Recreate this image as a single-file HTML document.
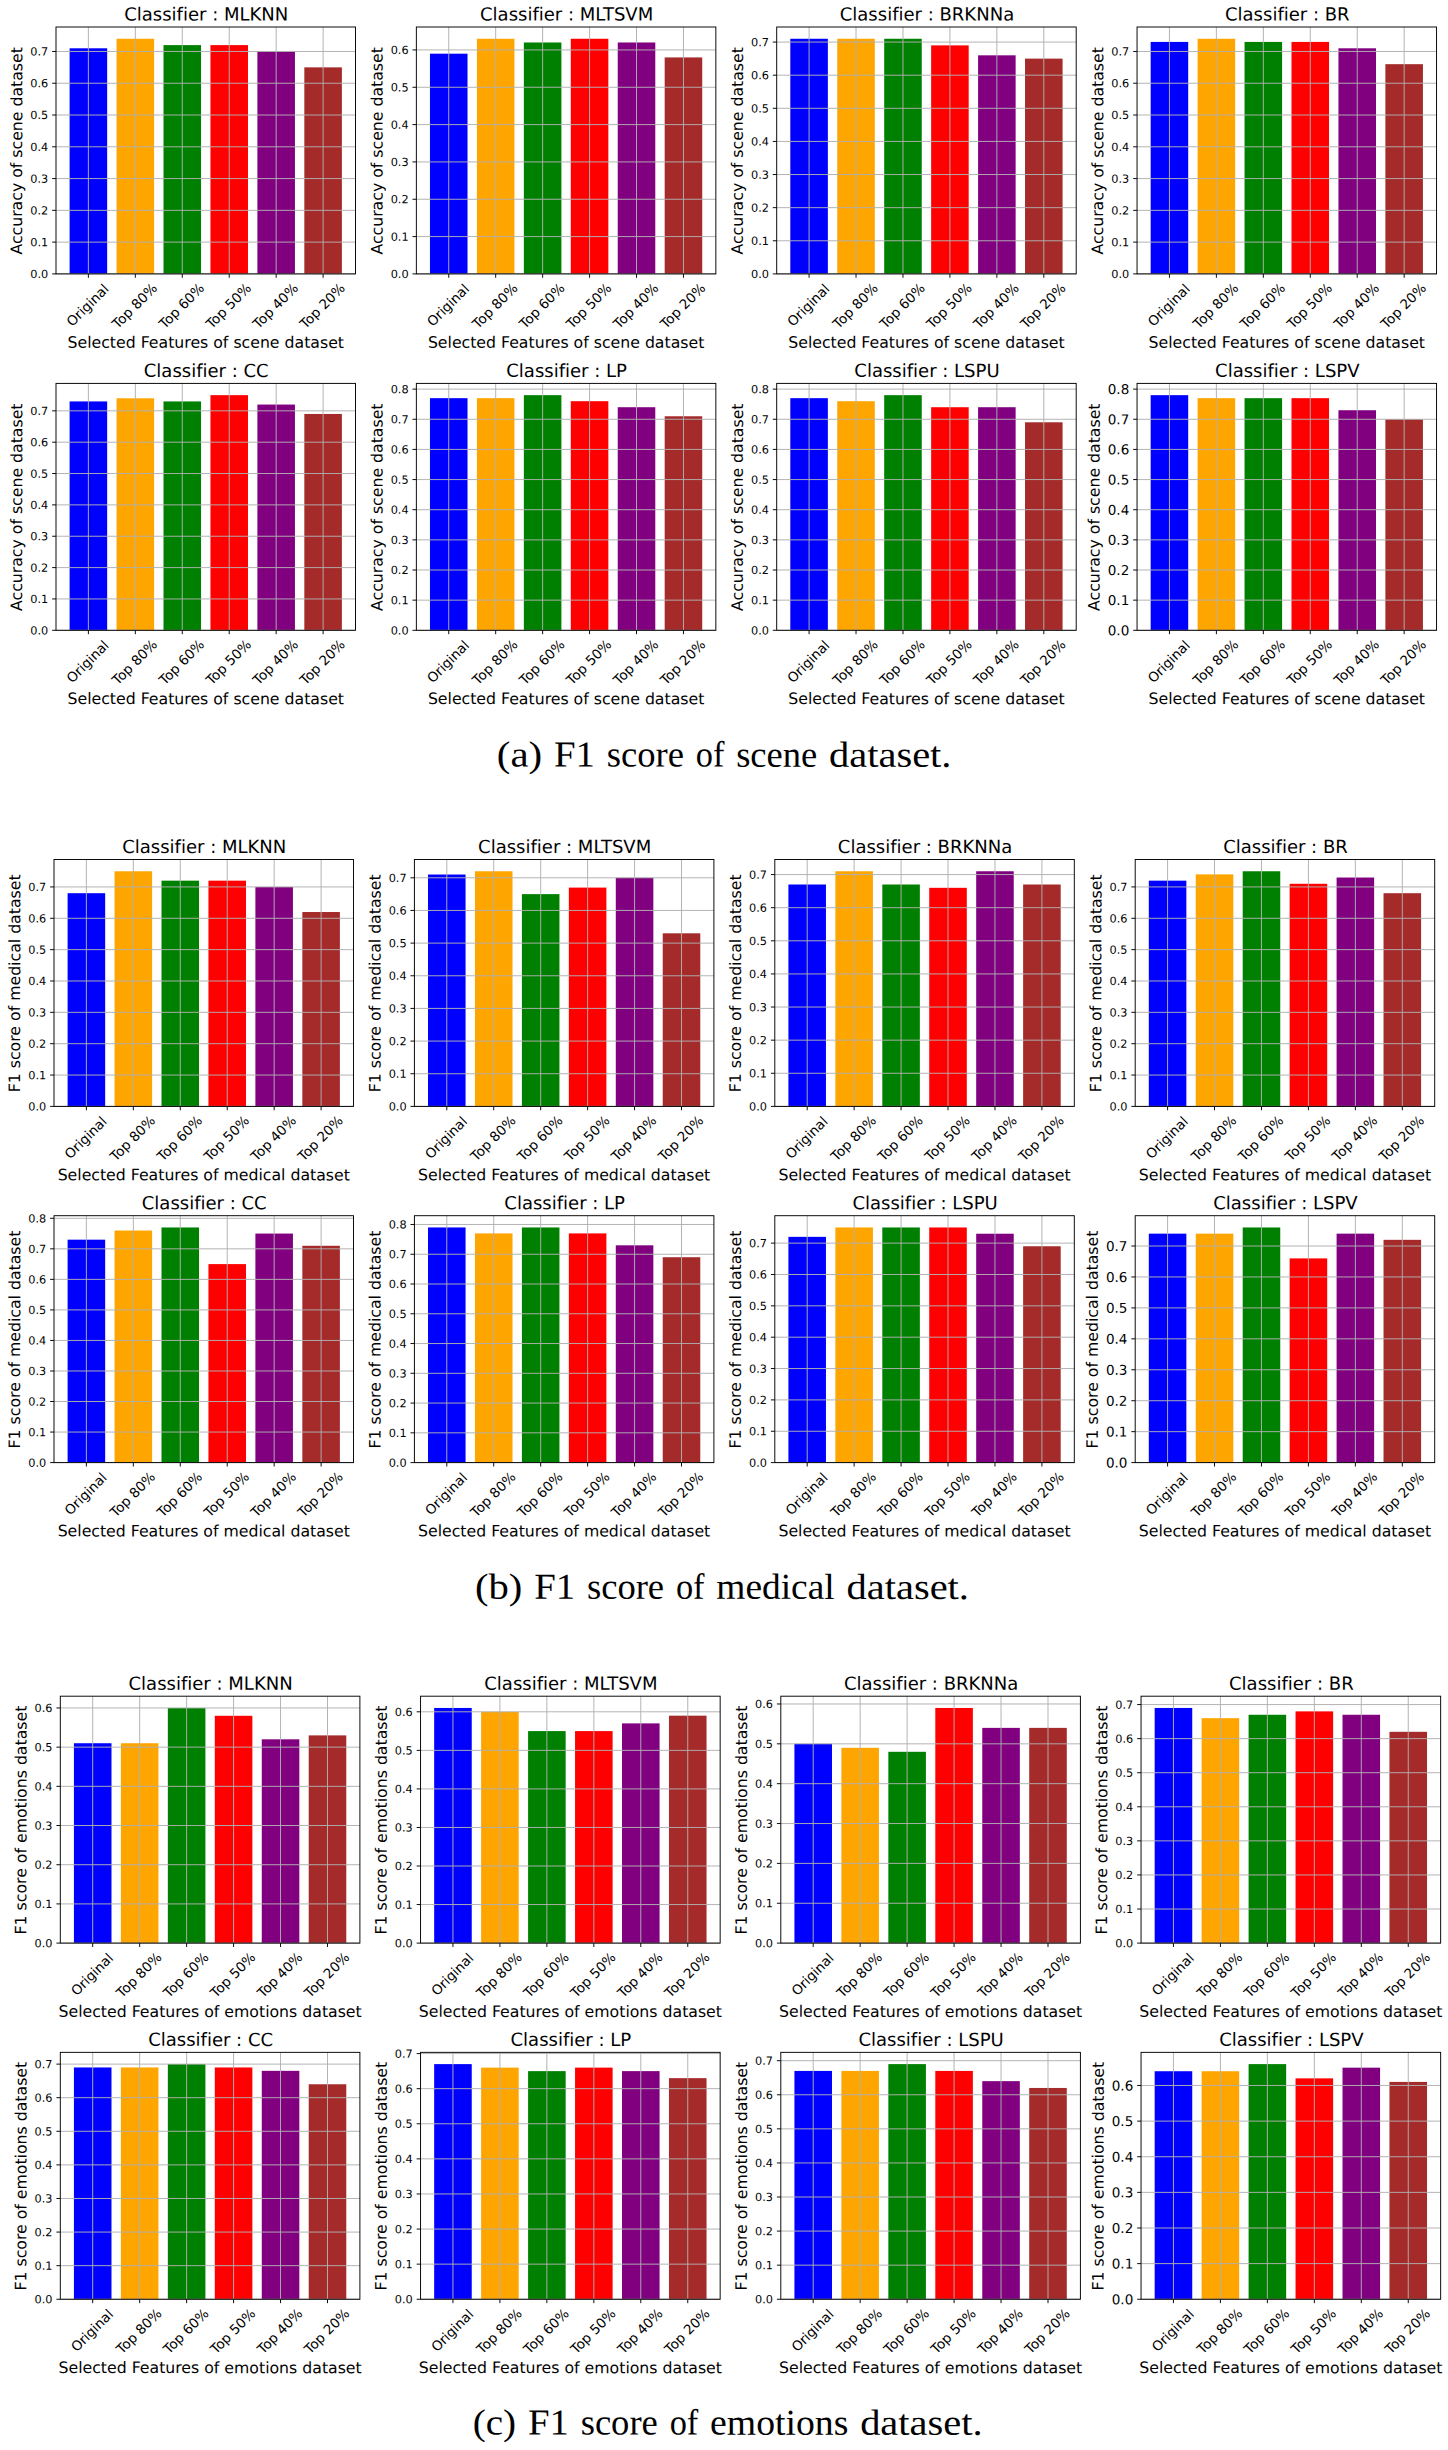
<!DOCTYPE html>
<html><head><meta charset="utf-8"><title>F1 score charts</title>
<style>
html,body{margin:0;padding:0;background:#fff}
svg{display:block}
text{font-variant-ligatures:none;font-feature-settings:"liga" 0,"clig" 0;font-family:"DejaVu Sans","Liberation Sans",sans-serif;fill:#000}
text.cap{font-family:"Liberation Serif","DejaVu Serif",serif;font-size:36.5px}
</style></head><body>
<svg width="1448" height="2450" viewBox="0 0 1448 2450">
<g>
<rect width="1448" height="2450" fill="#fff"/>
<g><rect x="69.61" y="48.29" width="37.55" height="225.61" fill="#0000ff"/>
<rect x="116.56" y="38.76" width="37.55" height="235.14" fill="#ffa500"/>
<rect x="163.5" y="45.11" width="37.55" height="228.79" fill="#008000"/>
<rect x="210.44" y="45.11" width="37.55" height="228.79" fill="#ff0000"/>
<rect x="257.39" y="51.47" width="37.55" height="222.43" fill="#800080"/>
<rect x="304.33" y="67.36" width="37.55" height="206.54" fill="#a52a2a"/>
<path d="M88.39 27V273.9M135.33 27V273.9M182.28 27V273.9M229.22 27V273.9M276.17 27V273.9M323.11 27V273.9M56 273.9H355.5M56 242.12H355.5M56 210.35H355.5M56 178.57H355.5M56 146.8H355.5M56 115.02H355.5M56 83.24H355.5M56 51.47H355.5" stroke="#b0b0b0" stroke-width="0.95" fill="none"/>
<path d="M88.39 273.9v3.89M135.33 273.9v3.89M182.28 273.9v3.89M229.22 273.9v3.89M276.17 273.9v3.89M323.11 273.9v3.89M56 273.9h-3.89M56 242.12h-3.89M56 210.35h-3.89M56 178.57h-3.89M56 146.8h-3.89M56 115.02h-3.89M56 83.24h-3.89M56 51.47h-3.89" stroke="#000" stroke-width="0.95" fill="none"/>
<rect x="56" y="27" width="299.5" height="246.9" fill="none" stroke="#000" stroke-width="0.95"/>
<text transform="translate(206.25 20.52) rotate(0.05)" font-size="18.03" text-anchor="middle">Classifier : MLKNN</text>
<text transform="translate(48.21 278.01) rotate(0.05)" font-size="11.27" text-anchor="end">0.0</text>
<text transform="translate(48.21 246.24) rotate(0.05)" font-size="11.27" text-anchor="end">0.1</text>
<text transform="translate(48.21 214.46) rotate(0.05)" font-size="11.27" text-anchor="end">0.2</text>
<text transform="translate(48.21 182.69) rotate(0.05)" font-size="11.27" text-anchor="end">0.3</text>
<text transform="translate(48.21 150.91) rotate(0.05)" font-size="11.27" text-anchor="end">0.4</text>
<text transform="translate(48.21 119.13) rotate(0.05)" font-size="11.27" text-anchor="end">0.5</text>
<text transform="translate(48.21 87.36) rotate(0.05)" font-size="11.27" text-anchor="end">0.6</text>
<text transform="translate(48.21 55.58) rotate(0.05)" font-size="11.27" text-anchor="end">0.7</text>
<text transform="translate(88.39 305.93) rotate(-45)" y="3.73" font-size="13.52" text-anchor="middle">Original</text>
<text transform="translate(135.33 306.53) rotate(-45)" y="3.73" font-size="13.52" text-anchor="middle">Top 80%</text>
<text transform="translate(182.28 306.53) rotate(-45)" y="3.73" font-size="13.52" text-anchor="middle">Top 60%</text>
<text transform="translate(229.22 306.53) rotate(-45)" y="3.73" font-size="13.52" text-anchor="middle">Top 50%</text>
<text transform="translate(276.17 306.53) rotate(-45)" y="3.73" font-size="13.52" text-anchor="middle">Top 40%</text>
<text transform="translate(323.11 306.53) rotate(-45)" y="3.73" font-size="13.52" text-anchor="middle">Top 20%</text>
<text transform="translate(205.75 347.78) rotate(0.05)" font-size="15.73" text-anchor="middle">Selected Features of scene dataset</text>
<text transform="translate(22.12 150.85) rotate(-89.95)" font-size="15.73" text-anchor="middle">Accuracy of scene dataset</text></g>
<g><rect x="429.96" y="53.69" width="37.55" height="220.21" fill="#0000ff"/>
<rect x="476.91" y="38.76" width="37.55" height="235.14" fill="#ffa500"/>
<rect x="523.85" y="42.49" width="37.55" height="231.41" fill="#008000"/>
<rect x="570.79" y="38.76" width="37.55" height="235.14" fill="#ff0000"/>
<rect x="617.74" y="42.49" width="37.55" height="231.41" fill="#800080"/>
<rect x="664.68" y="57.42" width="37.55" height="216.48" fill="#a52a2a"/>
<path d="M448.74 27V273.9M495.68 27V273.9M542.63 27V273.9M589.57 27V273.9M636.52 27V273.9M683.46 27V273.9M416.35 273.9H715.85M416.35 236.58H715.85M416.35 199.25H715.85M416.35 161.93H715.85M416.35 124.6H715.85M416.35 87.28H715.85M416.35 49.95H715.85" stroke="#b0b0b0" stroke-width="0.95" fill="none"/>
<path d="M448.74 273.9v3.89M495.68 273.9v3.89M542.63 273.9v3.89M589.57 273.9v3.89M636.52 273.9v3.89M683.46 273.9v3.89M416.35 273.9h-3.89M416.35 236.58h-3.89M416.35 199.25h-3.89M416.35 161.93h-3.89M416.35 124.6h-3.89M416.35 87.28h-3.89M416.35 49.95h-3.89" stroke="#000" stroke-width="0.95" fill="none"/>
<rect x="416.35" y="27" width="299.5" height="246.9" fill="none" stroke="#000" stroke-width="0.95"/>
<text transform="translate(566.6 20.52) rotate(0.05)" font-size="18.03" text-anchor="middle">Classifier : MLTSVM</text>
<text transform="translate(408.56 278.01) rotate(0.05)" font-size="11.27" text-anchor="end">0.0</text>
<text transform="translate(408.56 240.69) rotate(0.05)" font-size="11.27" text-anchor="end">0.1</text>
<text transform="translate(408.56 203.36) rotate(0.05)" font-size="11.27" text-anchor="end">0.2</text>
<text transform="translate(408.56 166.04) rotate(0.05)" font-size="11.27" text-anchor="end">0.3</text>
<text transform="translate(408.56 128.72) rotate(0.05)" font-size="11.27" text-anchor="end">0.4</text>
<text transform="translate(408.56 91.39) rotate(0.05)" font-size="11.27" text-anchor="end">0.5</text>
<text transform="translate(408.56 54.07) rotate(0.05)" font-size="11.27" text-anchor="end">0.6</text>
<text transform="translate(448.74 305.93) rotate(-45)" y="3.73" font-size="13.52" text-anchor="middle">Original</text>
<text transform="translate(495.68 306.53) rotate(-45)" y="3.73" font-size="13.52" text-anchor="middle">Top 80%</text>
<text transform="translate(542.63 306.53) rotate(-45)" y="3.73" font-size="13.52" text-anchor="middle">Top 60%</text>
<text transform="translate(589.57 306.53) rotate(-45)" y="3.73" font-size="13.52" text-anchor="middle">Top 50%</text>
<text transform="translate(636.52 306.53) rotate(-45)" y="3.73" font-size="13.52" text-anchor="middle">Top 40%</text>
<text transform="translate(683.46 306.53) rotate(-45)" y="3.73" font-size="13.52" text-anchor="middle">Top 20%</text>
<text transform="translate(566.1 347.78) rotate(0.05)" font-size="15.73" text-anchor="middle">Selected Features of scene dataset</text>
<text transform="translate(382.47 150.85) rotate(-89.95)" font-size="15.73" text-anchor="middle">Accuracy of scene dataset</text></g>
<g><rect x="790.31" y="38.76" width="37.55" height="235.14" fill="#0000ff"/>
<rect x="837.26" y="38.76" width="37.55" height="235.14" fill="#ffa500"/>
<rect x="884.2" y="38.76" width="37.55" height="235.14" fill="#008000"/>
<rect x="931.14" y="45.38" width="37.55" height="228.52" fill="#ff0000"/>
<rect x="978.09" y="55.32" width="37.55" height="218.58" fill="#800080"/>
<rect x="1025.03" y="58.63" width="37.55" height="215.27" fill="#a52a2a"/>
<path d="M809.09 27V273.9M856.03 27V273.9M902.98 27V273.9M949.92 27V273.9M996.87 27V273.9M1043.81 27V273.9M776.7 273.9H1076.2M776.7 240.78H1076.2M776.7 207.66H1076.2M776.7 174.54H1076.2M776.7 141.43H1076.2M776.7 108.31H1076.2M776.7 75.19H1076.2M776.7 42.07H1076.2" stroke="#b0b0b0" stroke-width="0.95" fill="none"/>
<path d="M809.09 273.9v3.89M856.03 273.9v3.89M902.98 273.9v3.89M949.92 273.9v3.89M996.87 273.9v3.89M1043.81 273.9v3.89M776.7 273.9h-3.89M776.7 240.78h-3.89M776.7 207.66h-3.89M776.7 174.54h-3.89M776.7 141.43h-3.89M776.7 108.31h-3.89M776.7 75.19h-3.89M776.7 42.07h-3.89" stroke="#000" stroke-width="0.95" fill="none"/>
<rect x="776.7" y="27" width="299.5" height="246.9" fill="none" stroke="#000" stroke-width="0.95"/>
<text transform="translate(926.95 20.52) rotate(0.05)" font-size="18.03" text-anchor="middle">Classifier : BRKNNa</text>
<text transform="translate(768.91 278.01) rotate(0.05)" font-size="11.27" text-anchor="end">0.0</text>
<text transform="translate(768.91 244.89) rotate(0.05)" font-size="11.27" text-anchor="end">0.1</text>
<text transform="translate(768.91 211.78) rotate(0.05)" font-size="11.27" text-anchor="end">0.2</text>
<text transform="translate(768.91 178.66) rotate(0.05)" font-size="11.27" text-anchor="end">0.3</text>
<text transform="translate(768.91 145.54) rotate(0.05)" font-size="11.27" text-anchor="end">0.4</text>
<text transform="translate(768.91 112.42) rotate(0.05)" font-size="11.27" text-anchor="end">0.5</text>
<text transform="translate(768.91 79.3) rotate(0.05)" font-size="11.27" text-anchor="end">0.6</text>
<text transform="translate(768.91 46.18) rotate(0.05)" font-size="11.27" text-anchor="end">0.7</text>
<text transform="translate(809.09 305.93) rotate(-45)" y="3.73" font-size="13.52" text-anchor="middle">Original</text>
<text transform="translate(856.03 306.53) rotate(-45)" y="3.73" font-size="13.52" text-anchor="middle">Top 80%</text>
<text transform="translate(902.98 306.53) rotate(-45)" y="3.73" font-size="13.52" text-anchor="middle">Top 60%</text>
<text transform="translate(949.92 306.53) rotate(-45)" y="3.73" font-size="13.52" text-anchor="middle">Top 50%</text>
<text transform="translate(996.87 306.53) rotate(-45)" y="3.73" font-size="13.52" text-anchor="middle">Top 40%</text>
<text transform="translate(1043.81 306.53) rotate(-45)" y="3.73" font-size="13.52" text-anchor="middle">Top 20%</text>
<text transform="translate(926.45 347.78) rotate(0.05)" font-size="15.73" text-anchor="middle">Selected Features of scene dataset</text>
<text transform="translate(742.82 150.85) rotate(-89.95)" font-size="15.73" text-anchor="middle">Accuracy of scene dataset</text></g>
<g><rect x="1150.66" y="41.93" width="37.55" height="231.97" fill="#0000ff"/>
<rect x="1197.61" y="38.76" width="37.55" height="235.14" fill="#ffa500"/>
<rect x="1244.55" y="41.93" width="37.55" height="231.97" fill="#008000"/>
<rect x="1291.49" y="41.93" width="37.55" height="231.97" fill="#ff0000"/>
<rect x="1338.44" y="48.29" width="37.55" height="225.61" fill="#800080"/>
<rect x="1385.38" y="64.18" width="37.55" height="209.72" fill="#a52a2a"/>
<path d="M1169.44 27V273.9M1216.38 27V273.9M1263.33 27V273.9M1310.27 27V273.9M1357.22 27V273.9M1404.16 27V273.9M1137.05 273.9H1436.55M1137.05 242.12H1436.55M1137.05 210.35H1436.55M1137.05 178.57H1436.55M1137.05 146.8H1436.55M1137.05 115.02H1436.55M1137.05 83.24H1436.55M1137.05 51.47H1436.55" stroke="#b0b0b0" stroke-width="0.95" fill="none"/>
<path d="M1169.44 273.9v3.89M1216.38 273.9v3.89M1263.33 273.9v3.89M1310.27 273.9v3.89M1357.22 273.9v3.89M1404.16 273.9v3.89M1137.05 273.9h-3.89M1137.05 242.12h-3.89M1137.05 210.35h-3.89M1137.05 178.57h-3.89M1137.05 146.8h-3.89M1137.05 115.02h-3.89M1137.05 83.24h-3.89M1137.05 51.47h-3.89" stroke="#000" stroke-width="0.95" fill="none"/>
<rect x="1137.05" y="27" width="299.5" height="246.9" fill="none" stroke="#000" stroke-width="0.95"/>
<text transform="translate(1287.3 20.52) rotate(0.05)" font-size="18.03" text-anchor="middle">Classifier : BR</text>
<text transform="translate(1129.26 278.01) rotate(0.05)" font-size="11.27" text-anchor="end">0.0</text>
<text transform="translate(1129.26 246.24) rotate(0.05)" font-size="11.27" text-anchor="end">0.1</text>
<text transform="translate(1129.26 214.46) rotate(0.05)" font-size="11.27" text-anchor="end">0.2</text>
<text transform="translate(1129.26 182.69) rotate(0.05)" font-size="11.27" text-anchor="end">0.3</text>
<text transform="translate(1129.26 150.91) rotate(0.05)" font-size="11.27" text-anchor="end">0.4</text>
<text transform="translate(1129.26 119.13) rotate(0.05)" font-size="11.27" text-anchor="end">0.5</text>
<text transform="translate(1129.26 87.36) rotate(0.05)" font-size="11.27" text-anchor="end">0.6</text>
<text transform="translate(1129.26 55.58) rotate(0.05)" font-size="11.27" text-anchor="end">0.7</text>
<text transform="translate(1169.44 305.93) rotate(-45)" y="3.73" font-size="13.52" text-anchor="middle">Original</text>
<text transform="translate(1216.38 306.53) rotate(-45)" y="3.73" font-size="13.52" text-anchor="middle">Top 80%</text>
<text transform="translate(1263.33 306.53) rotate(-45)" y="3.73" font-size="13.52" text-anchor="middle">Top 60%</text>
<text transform="translate(1310.27 306.53) rotate(-45)" y="3.73" font-size="13.52" text-anchor="middle">Top 50%</text>
<text transform="translate(1357.22 306.53) rotate(-45)" y="3.73" font-size="13.52" text-anchor="middle">Top 40%</text>
<text transform="translate(1404.16 306.53) rotate(-45)" y="3.73" font-size="13.52" text-anchor="middle">Top 20%</text>
<text transform="translate(1286.8 347.78) rotate(0.05)" font-size="15.73" text-anchor="middle">Selected Features of scene dataset</text>
<text transform="translate(1103.17 150.85) rotate(-89.95)" font-size="15.73" text-anchor="middle">Accuracy of scene dataset</text></g>
<g><rect x="69.61" y="401.43" width="37.55" height="228.87" fill="#0000ff"/>
<rect x="116.56" y="398.29" width="37.55" height="232.01" fill="#ffa500"/>
<rect x="163.5" y="401.43" width="37.55" height="228.87" fill="#008000"/>
<rect x="210.44" y="395.16" width="37.55" height="235.14" fill="#ff0000"/>
<rect x="257.39" y="404.56" width="37.55" height="225.74" fill="#800080"/>
<rect x="304.33" y="413.97" width="37.55" height="216.33" fill="#a52a2a"/>
<path d="M88.39 383.4V630.3M135.33 383.4V630.3M182.28 383.4V630.3M229.22 383.4V630.3M276.17 383.4V630.3M323.11 383.4V630.3M56 630.3H355.5M56 598.95H355.5M56 567.6H355.5M56 536.24H355.5M56 504.89H355.5M56 473.54H355.5M56 442.19H355.5M56 410.83H355.5" stroke="#b0b0b0" stroke-width="0.95" fill="none"/>
<path d="M88.39 630.3v3.89M135.33 630.3v3.89M182.28 630.3v3.89M229.22 630.3v3.89M276.17 630.3v3.89M323.11 630.3v3.89M56 630.3h-3.89M56 598.95h-3.89M56 567.6h-3.89M56 536.24h-3.89M56 504.89h-3.89M56 473.54h-3.89M56 442.19h-3.89M56 410.83h-3.89" stroke="#000" stroke-width="0.95" fill="none"/>
<rect x="56" y="383.4" width="299.5" height="246.9" fill="none" stroke="#000" stroke-width="0.95"/>
<text transform="translate(206.25 376.92) rotate(0.05)" font-size="18.03" text-anchor="middle">Classifier : CC</text>
<text transform="translate(48.21 634.41) rotate(0.05)" font-size="11.27" text-anchor="end">0.0</text>
<text transform="translate(48.21 603.06) rotate(0.05)" font-size="11.27" text-anchor="end">0.1</text>
<text transform="translate(48.21 571.71) rotate(0.05)" font-size="11.27" text-anchor="end">0.2</text>
<text transform="translate(48.21 540.36) rotate(0.05)" font-size="11.27" text-anchor="end">0.3</text>
<text transform="translate(48.21 509) rotate(0.05)" font-size="11.27" text-anchor="end">0.4</text>
<text transform="translate(48.21 477.65) rotate(0.05)" font-size="11.27" text-anchor="end">0.5</text>
<text transform="translate(48.21 446.3) rotate(0.05)" font-size="11.27" text-anchor="end">0.6</text>
<text transform="translate(48.21 414.95) rotate(0.05)" font-size="11.27" text-anchor="end">0.7</text>
<text transform="translate(88.39 662.33) rotate(-45)" y="3.73" font-size="13.52" text-anchor="middle">Original</text>
<text transform="translate(135.33 662.93) rotate(-45)" y="3.73" font-size="13.52" text-anchor="middle">Top 80%</text>
<text transform="translate(182.28 662.93) rotate(-45)" y="3.73" font-size="13.52" text-anchor="middle">Top 60%</text>
<text transform="translate(229.22 662.93) rotate(-45)" y="3.73" font-size="13.52" text-anchor="middle">Top 50%</text>
<text transform="translate(276.17 662.93) rotate(-45)" y="3.73" font-size="13.52" text-anchor="middle">Top 40%</text>
<text transform="translate(323.11 662.93) rotate(-45)" y="3.73" font-size="13.52" text-anchor="middle">Top 20%</text>
<text transform="translate(205.75 704.18) rotate(0.05)" font-size="15.73" text-anchor="middle">Selected Features of scene dataset</text>
<text transform="translate(22.12 507.25) rotate(-89.95)" font-size="15.73" text-anchor="middle">Accuracy of scene dataset</text></g>
<g><rect x="429.96" y="398.17" width="37.55" height="232.13" fill="#0000ff"/>
<rect x="476.91" y="398.17" width="37.55" height="232.13" fill="#ffa500"/>
<rect x="523.85" y="395.16" width="37.55" height="235.14" fill="#008000"/>
<rect x="570.79" y="401.19" width="37.55" height="229.11" fill="#ff0000"/>
<rect x="617.74" y="407.22" width="37.55" height="223.08" fill="#800080"/>
<rect x="664.68" y="416.26" width="37.55" height="214.04" fill="#a52a2a"/>
<path d="M448.74 383.4V630.3M495.68 383.4V630.3M542.63 383.4V630.3M589.57 383.4V630.3M636.52 383.4V630.3M683.46 383.4V630.3M416.35 630.3H715.85M416.35 600.15H715.85M416.35 570.01H715.85M416.35 539.86H715.85M416.35 509.71H715.85M416.35 479.57H715.85M416.35 449.42H715.85M416.35 419.27H715.85M416.35 389.13H715.85" stroke="#b0b0b0" stroke-width="0.95" fill="none"/>
<path d="M448.74 630.3v3.89M495.68 630.3v3.89M542.63 630.3v3.89M589.57 630.3v3.89M636.52 630.3v3.89M683.46 630.3v3.89M416.35 630.3h-3.89M416.35 600.15h-3.89M416.35 570.01h-3.89M416.35 539.86h-3.89M416.35 509.71h-3.89M416.35 479.57h-3.89M416.35 449.42h-3.89M416.35 419.27h-3.89M416.35 389.13h-3.89" stroke="#000" stroke-width="0.95" fill="none"/>
<rect x="416.35" y="383.4" width="299.5" height="246.9" fill="none" stroke="#000" stroke-width="0.95"/>
<text transform="translate(566.6 376.92) rotate(0.05)" font-size="18.03" text-anchor="middle">Classifier : LP</text>
<text transform="translate(408.56 634.41) rotate(0.05)" font-size="11.27" text-anchor="end">0.0</text>
<text transform="translate(408.56 604.27) rotate(0.05)" font-size="11.27" text-anchor="end">0.1</text>
<text transform="translate(408.56 574.12) rotate(0.05)" font-size="11.27" text-anchor="end">0.2</text>
<text transform="translate(408.56 543.97) rotate(0.05)" font-size="11.27" text-anchor="end">0.3</text>
<text transform="translate(408.56 513.83) rotate(0.05)" font-size="11.27" text-anchor="end">0.4</text>
<text transform="translate(408.56 483.68) rotate(0.05)" font-size="11.27" text-anchor="end">0.5</text>
<text transform="translate(408.56 453.53) rotate(0.05)" font-size="11.27" text-anchor="end">0.6</text>
<text transform="translate(408.56 423.39) rotate(0.05)" font-size="11.27" text-anchor="end">0.7</text>
<text transform="translate(408.56 393.24) rotate(0.05)" font-size="11.27" text-anchor="end">0.8</text>
<text transform="translate(448.74 662.33) rotate(-45)" y="3.73" font-size="13.52" text-anchor="middle">Original</text>
<text transform="translate(495.68 662.93) rotate(-45)" y="3.73" font-size="13.52" text-anchor="middle">Top 80%</text>
<text transform="translate(542.63 662.93) rotate(-45)" y="3.73" font-size="13.52" text-anchor="middle">Top 60%</text>
<text transform="translate(589.57 662.93) rotate(-45)" y="3.73" font-size="13.52" text-anchor="middle">Top 50%</text>
<text transform="translate(636.52 662.93) rotate(-45)" y="3.73" font-size="13.52" text-anchor="middle">Top 40%</text>
<text transform="translate(683.46 662.93) rotate(-45)" y="3.73" font-size="13.52" text-anchor="middle">Top 20%</text>
<text transform="translate(566.1 704.18) rotate(0.05)" font-size="15.73" text-anchor="middle">Selected Features of scene dataset</text>
<text transform="translate(382.47 507.25) rotate(-89.95)" font-size="15.73" text-anchor="middle">Accuracy of scene dataset</text></g>
<g><rect x="790.31" y="398.17" width="37.55" height="232.13" fill="#0000ff"/>
<rect x="837.26" y="401.19" width="37.55" height="229.11" fill="#ffa500"/>
<rect x="884.2" y="395.16" width="37.55" height="235.14" fill="#008000"/>
<rect x="931.14" y="407.22" width="37.55" height="223.08" fill="#ff0000"/>
<rect x="978.09" y="407.22" width="37.55" height="223.08" fill="#800080"/>
<rect x="1025.03" y="422.29" width="37.55" height="208.01" fill="#a52a2a"/>
<path d="M809.09 383.4V630.3M856.03 383.4V630.3M902.98 383.4V630.3M949.92 383.4V630.3M996.87 383.4V630.3M1043.81 383.4V630.3M776.7 630.3H1076.2M776.7 600.15H1076.2M776.7 570.01H1076.2M776.7 539.86H1076.2M776.7 509.71H1076.2M776.7 479.57H1076.2M776.7 449.42H1076.2M776.7 419.27H1076.2M776.7 389.13H1076.2" stroke="#b0b0b0" stroke-width="0.95" fill="none"/>
<path d="M809.09 630.3v3.89M856.03 630.3v3.89M902.98 630.3v3.89M949.92 630.3v3.89M996.87 630.3v3.89M1043.81 630.3v3.89M776.7 630.3h-3.89M776.7 600.15h-3.89M776.7 570.01h-3.89M776.7 539.86h-3.89M776.7 509.71h-3.89M776.7 479.57h-3.89M776.7 449.42h-3.89M776.7 419.27h-3.89M776.7 389.13h-3.89" stroke="#000" stroke-width="0.95" fill="none"/>
<rect x="776.7" y="383.4" width="299.5" height="246.9" fill="none" stroke="#000" stroke-width="0.95"/>
<text transform="translate(926.95 376.92) rotate(0.05)" font-size="18.03" text-anchor="middle">Classifier : LSPU</text>
<text transform="translate(768.91 634.41) rotate(0.05)" font-size="11.27" text-anchor="end">0.0</text>
<text transform="translate(768.91 604.27) rotate(0.05)" font-size="11.27" text-anchor="end">0.1</text>
<text transform="translate(768.91 574.12) rotate(0.05)" font-size="11.27" text-anchor="end">0.2</text>
<text transform="translate(768.91 543.97) rotate(0.05)" font-size="11.27" text-anchor="end">0.3</text>
<text transform="translate(768.91 513.83) rotate(0.05)" font-size="11.27" text-anchor="end">0.4</text>
<text transform="translate(768.91 483.68) rotate(0.05)" font-size="11.27" text-anchor="end">0.5</text>
<text transform="translate(768.91 453.53) rotate(0.05)" font-size="11.27" text-anchor="end">0.6</text>
<text transform="translate(768.91 423.39) rotate(0.05)" font-size="11.27" text-anchor="end">0.7</text>
<text transform="translate(768.91 393.24) rotate(0.05)" font-size="11.27" text-anchor="end">0.8</text>
<text transform="translate(809.09 662.33) rotate(-45)" y="3.73" font-size="13.52" text-anchor="middle">Original</text>
<text transform="translate(856.03 662.93) rotate(-45)" y="3.73" font-size="13.52" text-anchor="middle">Top 80%</text>
<text transform="translate(902.98 662.93) rotate(-45)" y="3.73" font-size="13.52" text-anchor="middle">Top 60%</text>
<text transform="translate(949.92 662.93) rotate(-45)" y="3.73" font-size="13.52" text-anchor="middle">Top 50%</text>
<text transform="translate(996.87 662.93) rotate(-45)" y="3.73" font-size="13.52" text-anchor="middle">Top 40%</text>
<text transform="translate(1043.81 662.93) rotate(-45)" y="3.73" font-size="13.52" text-anchor="middle">Top 20%</text>
<text transform="translate(926.45 704.18) rotate(0.05)" font-size="15.73" text-anchor="middle">Selected Features of scene dataset</text>
<text transform="translate(742.82 507.25) rotate(-89.95)" font-size="15.73" text-anchor="middle">Accuracy of scene dataset</text></g>
<g><rect x="1150.66" y="395.16" width="37.55" height="235.14" fill="#0000ff"/>
<rect x="1197.61" y="398.17" width="37.55" height="232.13" fill="#ffa500"/>
<rect x="1244.55" y="398.17" width="37.55" height="232.13" fill="#008000"/>
<rect x="1291.49" y="398.17" width="37.55" height="232.13" fill="#ff0000"/>
<rect x="1338.44" y="410.23" width="37.55" height="220.07" fill="#800080"/>
<rect x="1385.38" y="419.27" width="37.55" height="211.03" fill="#a52a2a"/>
<path d="M1169.44 383.4V630.3M1216.38 383.4V630.3M1263.33 383.4V630.3M1310.27 383.4V630.3M1357.22 383.4V630.3M1404.16 383.4V630.3M1137.05 630.3H1436.55M1137.05 600.15H1436.55M1137.05 570.01H1436.55M1137.05 539.86H1436.55M1137.05 509.71H1436.55M1137.05 479.57H1436.55M1137.05 449.42H1436.55M1137.05 419.27H1436.55M1137.05 389.13H1436.55" stroke="#b0b0b0" stroke-width="0.95" fill="none"/>
<path d="M1169.44 630.3v3.89M1216.38 630.3v3.89M1263.33 630.3v3.89M1310.27 630.3v3.89M1357.22 630.3v3.89M1404.16 630.3v3.89M1137.05 630.3h-3.89M1137.05 600.15h-3.89M1137.05 570.01h-3.89M1137.05 539.86h-3.89M1137.05 509.71h-3.89M1137.05 479.57h-3.89M1137.05 449.42h-3.89M1137.05 419.27h-3.89M1137.05 389.13h-3.89" stroke="#000" stroke-width="0.95" fill="none"/>
<rect x="1137.05" y="383.4" width="299.5" height="246.9" fill="none" stroke="#000" stroke-width="0.95"/>
<text transform="translate(1287.3 376.92) rotate(0.05)" font-size="18.03" text-anchor="middle">Classifier : LSPV</text>
<text transform="translate(1129.26 635.24) rotate(0.05)" font-size="13.52" text-anchor="end">0.0</text>
<text transform="translate(1129.26 605.09) rotate(0.05)" font-size="13.52" text-anchor="end">0.1</text>
<text transform="translate(1129.26 574.94) rotate(0.05)" font-size="13.52" text-anchor="end">0.2</text>
<text transform="translate(1129.26 544.8) rotate(0.05)" font-size="13.52" text-anchor="end">0.3</text>
<text transform="translate(1129.26 514.65) rotate(0.05)" font-size="13.52" text-anchor="end">0.4</text>
<text transform="translate(1129.26 484.5) rotate(0.05)" font-size="13.52" text-anchor="end">0.5</text>
<text transform="translate(1129.26 454.36) rotate(0.05)" font-size="13.52" text-anchor="end">0.6</text>
<text transform="translate(1129.26 424.21) rotate(0.05)" font-size="13.52" text-anchor="end">0.7</text>
<text transform="translate(1129.26 394.06) rotate(0.05)" font-size="13.52" text-anchor="end">0.8</text>
<text transform="translate(1169.44 662.33) rotate(-45)" y="3.73" font-size="13.52" text-anchor="middle">Original</text>
<text transform="translate(1216.38 662.93) rotate(-45)" y="3.73" font-size="13.52" text-anchor="middle">Top 80%</text>
<text transform="translate(1263.33 662.93) rotate(-45)" y="3.73" font-size="13.52" text-anchor="middle">Top 60%</text>
<text transform="translate(1310.27 662.93) rotate(-45)" y="3.73" font-size="13.52" text-anchor="middle">Top 50%</text>
<text transform="translate(1357.22 662.93) rotate(-45)" y="3.73" font-size="13.52" text-anchor="middle">Top 40%</text>
<text transform="translate(1404.16 662.93) rotate(-45)" y="3.73" font-size="13.52" text-anchor="middle">Top 20%</text>
<text transform="translate(1286.8 704.18) rotate(0.05)" font-size="15.73" text-anchor="middle">Selected Features of scene dataset</text>
<text transform="translate(1099.58 507.25) rotate(-89.95)" font-size="15.73" text-anchor="middle">Accuracy of scene dataset</text></g>
<text class="cap" transform="translate(496.8 766.5) rotate(0.03)"><tspan x="0" textLength="45.37" lengthAdjust="spacingAndGlyphs">(a)</tspan> <tspan x="57.19" textLength="40.93" lengthAdjust="spacingAndGlyphs">F1</tspan> <tspan x="109.94" textLength="77.18" lengthAdjust="spacingAndGlyphs">score</tspan> <tspan x="198.94" textLength="28.61" lengthAdjust="spacingAndGlyphs">of</tspan> <tspan x="239.38" textLength="81.01" lengthAdjust="spacingAndGlyphs">scene</tspan> <tspan x="332.21" textLength="122.48" lengthAdjust="spacingAndGlyphs">dataset.</tspan></text>
<g><rect x="67.61" y="893.2" width="37.55" height="213.2" fill="#0000ff"/>
<rect x="114.56" y="871.26" width="37.55" height="235.14" fill="#ffa500"/>
<rect x="161.5" y="880.66" width="37.55" height="225.74" fill="#008000"/>
<rect x="208.44" y="880.66" width="37.55" height="225.74" fill="#ff0000"/>
<rect x="255.39" y="886.93" width="37.55" height="219.47" fill="#800080"/>
<rect x="302.33" y="912.02" width="37.55" height="194.38" fill="#a52a2a"/>
<path d="M86.39 859.5V1106.4M133.33 859.5V1106.4M180.28 859.5V1106.4M227.22 859.5V1106.4M274.17 859.5V1106.4M321.11 859.5V1106.4M54 1106.4H353.5M54 1075.05H353.5M54 1043.7H353.5M54 1012.34H353.5M54 980.99H353.5M54 949.64H353.5M54 918.29H353.5M54 886.93H353.5" stroke="#b0b0b0" stroke-width="0.95" fill="none"/>
<path d="M86.39 1106.4v3.89M133.33 1106.4v3.89M180.28 1106.4v3.89M227.22 1106.4v3.89M274.17 1106.4v3.89M321.11 1106.4v3.89M54 1106.4h-3.89M54 1075.05h-3.89M54 1043.7h-3.89M54 1012.34h-3.89M54 980.99h-3.89M54 949.64h-3.89M54 918.29h-3.89M54 886.93h-3.89" stroke="#000" stroke-width="0.95" fill="none"/>
<rect x="54" y="859.5" width="299.5" height="246.9" fill="none" stroke="#000" stroke-width="0.95"/>
<text transform="translate(204.25 853.03) rotate(0.05)" font-size="18.03" text-anchor="middle">Classifier : MLKNN</text>
<text transform="translate(46.21 1110.51) rotate(0.05)" font-size="11.27" text-anchor="end">0.0</text>
<text transform="translate(46.21 1079.16) rotate(0.05)" font-size="11.27" text-anchor="end">0.1</text>
<text transform="translate(46.21 1047.81) rotate(0.05)" font-size="11.27" text-anchor="end">0.2</text>
<text transform="translate(46.21 1016.46) rotate(0.05)" font-size="11.27" text-anchor="end">0.3</text>
<text transform="translate(46.21 985.1) rotate(0.05)" font-size="11.27" text-anchor="end">0.4</text>
<text transform="translate(46.21 953.75) rotate(0.05)" font-size="11.27" text-anchor="end">0.5</text>
<text transform="translate(46.21 922.4) rotate(0.05)" font-size="11.27" text-anchor="end">0.6</text>
<text transform="translate(46.21 891.05) rotate(0.05)" font-size="11.27" text-anchor="end">0.7</text>
<text transform="translate(86.39 1138.43) rotate(-45)" y="3.73" font-size="13.52" text-anchor="middle">Original</text>
<text transform="translate(133.33 1139.03) rotate(-45)" y="3.73" font-size="13.52" text-anchor="middle">Top 80%</text>
<text transform="translate(180.28 1139.03) rotate(-45)" y="3.73" font-size="13.52" text-anchor="middle">Top 60%</text>
<text transform="translate(227.22 1139.03) rotate(-45)" y="3.73" font-size="13.52" text-anchor="middle">Top 50%</text>
<text transform="translate(274.17 1139.03) rotate(-45)" y="3.73" font-size="13.52" text-anchor="middle">Top 40%</text>
<text transform="translate(321.11 1139.03) rotate(-45)" y="3.73" font-size="13.52" text-anchor="middle">Top 20%</text>
<text transform="translate(203.75 1180.28) rotate(0.05)" font-size="15.73" text-anchor="middle">Selected Features of medical dataset</text>
<text transform="translate(20.12 983.35) rotate(-89.95)" font-size="15.73" text-anchor="middle">F1 score of medical dataset</text></g>
<g><rect x="428.01" y="874.52" width="37.55" height="231.88" fill="#0000ff"/>
<rect x="474.96" y="871.26" width="37.55" height="235.14" fill="#ffa500"/>
<rect x="521.9" y="894.12" width="37.55" height="212.28" fill="#008000"/>
<rect x="568.84" y="887.59" width="37.55" height="218.81" fill="#ff0000"/>
<rect x="615.79" y="877.79" width="37.55" height="228.61" fill="#800080"/>
<rect x="662.73" y="933.31" width="37.55" height="173.09" fill="#a52a2a"/>
<path d="M446.79 859.5V1106.4M493.73 859.5V1106.4M540.68 859.5V1106.4M587.62 859.5V1106.4M634.57 859.5V1106.4M681.51 859.5V1106.4M414.4 1106.4H713.9M414.4 1073.74H713.9M414.4 1041.08H713.9M414.4 1008.42H713.9M414.4 975.77H713.9M414.4 943.11H713.9M414.4 910.45H713.9M414.4 877.79H713.9" stroke="#b0b0b0" stroke-width="0.95" fill="none"/>
<path d="M446.79 1106.4v3.89M493.73 1106.4v3.89M540.68 1106.4v3.89M587.62 1106.4v3.89M634.57 1106.4v3.89M681.51 1106.4v3.89M414.4 1106.4h-3.89M414.4 1073.74h-3.89M414.4 1041.08h-3.89M414.4 1008.42h-3.89M414.4 975.77h-3.89M414.4 943.11h-3.89M414.4 910.45h-3.89M414.4 877.79h-3.89" stroke="#000" stroke-width="0.95" fill="none"/>
<rect x="414.4" y="859.5" width="299.5" height="246.9" fill="none" stroke="#000" stroke-width="0.95"/>
<text transform="translate(564.65 853.03) rotate(0.05)" font-size="18.03" text-anchor="middle">Classifier : MLTSVM</text>
<text transform="translate(406.61 1110.51) rotate(0.05)" font-size="11.27" text-anchor="end">0.0</text>
<text transform="translate(406.61 1077.85) rotate(0.05)" font-size="11.27" text-anchor="end">0.1</text>
<text transform="translate(406.61 1045.2) rotate(0.05)" font-size="11.27" text-anchor="end">0.2</text>
<text transform="translate(406.61 1012.54) rotate(0.05)" font-size="11.27" text-anchor="end">0.3</text>
<text transform="translate(406.61 979.88) rotate(0.05)" font-size="11.27" text-anchor="end">0.4</text>
<text transform="translate(406.61 947.22) rotate(0.05)" font-size="11.27" text-anchor="end">0.5</text>
<text transform="translate(406.61 914.56) rotate(0.05)" font-size="11.27" text-anchor="end">0.6</text>
<text transform="translate(406.61 881.9) rotate(0.05)" font-size="11.27" text-anchor="end">0.7</text>
<text transform="translate(446.79 1138.43) rotate(-45)" y="3.73" font-size="13.52" text-anchor="middle">Original</text>
<text transform="translate(493.73 1139.03) rotate(-45)" y="3.73" font-size="13.52" text-anchor="middle">Top 80%</text>
<text transform="translate(540.68 1139.03) rotate(-45)" y="3.73" font-size="13.52" text-anchor="middle">Top 60%</text>
<text transform="translate(587.62 1139.03) rotate(-45)" y="3.73" font-size="13.52" text-anchor="middle">Top 50%</text>
<text transform="translate(634.57 1139.03) rotate(-45)" y="3.73" font-size="13.52" text-anchor="middle">Top 40%</text>
<text transform="translate(681.51 1139.03) rotate(-45)" y="3.73" font-size="13.52" text-anchor="middle">Top 20%</text>
<text transform="translate(564.15 1180.28) rotate(0.05)" font-size="15.73" text-anchor="middle">Selected Features of medical dataset</text>
<text transform="translate(380.52 983.35) rotate(-89.95)" font-size="15.73" text-anchor="middle">F1 score of medical dataset</text></g>
<g><rect x="788.41" y="884.5" width="37.55" height="221.9" fill="#0000ff"/>
<rect x="835.36" y="871.26" width="37.55" height="235.14" fill="#ffa500"/>
<rect x="882.3" y="884.5" width="37.55" height="221.9" fill="#008000"/>
<rect x="929.24" y="887.82" width="37.55" height="218.58" fill="#ff0000"/>
<rect x="976.19" y="871.26" width="37.55" height="235.14" fill="#800080"/>
<rect x="1023.13" y="884.5" width="37.55" height="221.9" fill="#a52a2a"/>
<path d="M807.19 859.5V1106.4M854.13 859.5V1106.4M901.08 859.5V1106.4M948.02 859.5V1106.4M994.97 859.5V1106.4M1041.91 859.5V1106.4M774.8 1106.4H1074.3M774.8 1073.28H1074.3M774.8 1040.16H1074.3M774.8 1007.04H1074.3M774.8 973.93H1074.3M774.8 940.81H1074.3M774.8 907.69H1074.3M774.8 874.57H1074.3" stroke="#b0b0b0" stroke-width="0.95" fill="none"/>
<path d="M807.19 1106.4v3.89M854.13 1106.4v3.89M901.08 1106.4v3.89M948.02 1106.4v3.89M994.97 1106.4v3.89M1041.91 1106.4v3.89M774.8 1106.4h-3.89M774.8 1073.28h-3.89M774.8 1040.16h-3.89M774.8 1007.04h-3.89M774.8 973.93h-3.89M774.8 940.81h-3.89M774.8 907.69h-3.89M774.8 874.57h-3.89" stroke="#000" stroke-width="0.95" fill="none"/>
<rect x="774.8" y="859.5" width="299.5" height="246.9" fill="none" stroke="#000" stroke-width="0.95"/>
<text transform="translate(925.05 853.03) rotate(0.05)" font-size="18.03" text-anchor="middle">Classifier : BRKNNa</text>
<text transform="translate(767.01 1110.51) rotate(0.05)" font-size="11.27" text-anchor="end">0.0</text>
<text transform="translate(767.01 1077.39) rotate(0.05)" font-size="11.27" text-anchor="end">0.1</text>
<text transform="translate(767.01 1044.28) rotate(0.05)" font-size="11.27" text-anchor="end">0.2</text>
<text transform="translate(767.01 1011.16) rotate(0.05)" font-size="11.27" text-anchor="end">0.3</text>
<text transform="translate(767.01 978.04) rotate(0.05)" font-size="11.27" text-anchor="end">0.4</text>
<text transform="translate(767.01 944.92) rotate(0.05)" font-size="11.27" text-anchor="end">0.5</text>
<text transform="translate(767.01 911.8) rotate(0.05)" font-size="11.27" text-anchor="end">0.6</text>
<text transform="translate(767.01 878.68) rotate(0.05)" font-size="11.27" text-anchor="end">0.7</text>
<text transform="translate(807.19 1138.43) rotate(-45)" y="3.73" font-size="13.52" text-anchor="middle">Original</text>
<text transform="translate(854.13 1139.03) rotate(-45)" y="3.73" font-size="13.52" text-anchor="middle">Top 80%</text>
<text transform="translate(901.08 1139.03) rotate(-45)" y="3.73" font-size="13.52" text-anchor="middle">Top 60%</text>
<text transform="translate(948.02 1139.03) rotate(-45)" y="3.73" font-size="13.52" text-anchor="middle">Top 50%</text>
<text transform="translate(994.97 1139.03) rotate(-45)" y="3.73" font-size="13.52" text-anchor="middle">Top 40%</text>
<text transform="translate(1041.91 1139.03) rotate(-45)" y="3.73" font-size="13.52" text-anchor="middle">Top 20%</text>
<text transform="translate(924.55 1180.28) rotate(0.05)" font-size="15.73" text-anchor="middle">Selected Features of medical dataset</text>
<text transform="translate(740.92 983.35) rotate(-89.95)" font-size="15.73" text-anchor="middle">F1 score of medical dataset</text></g>
<g><rect x="1148.81" y="880.66" width="37.55" height="225.74" fill="#0000ff"/>
<rect x="1195.76" y="874.39" width="37.55" height="232.01" fill="#ffa500"/>
<rect x="1242.7" y="871.26" width="37.55" height="235.14" fill="#008000"/>
<rect x="1289.64" y="883.8" width="37.55" height="222.6" fill="#ff0000"/>
<rect x="1336.59" y="877.53" width="37.55" height="228.87" fill="#800080"/>
<rect x="1383.53" y="893.2" width="37.55" height="213.2" fill="#a52a2a"/>
<path d="M1167.59 859.5V1106.4M1214.53 859.5V1106.4M1261.48 859.5V1106.4M1308.42 859.5V1106.4M1355.37 859.5V1106.4M1402.31 859.5V1106.4M1135.2 1106.4H1434.7M1135.2 1075.05H1434.7M1135.2 1043.7H1434.7M1135.2 1012.34H1434.7M1135.2 980.99H1434.7M1135.2 949.64H1434.7M1135.2 918.29H1434.7M1135.2 886.93H1434.7" stroke="#b0b0b0" stroke-width="0.95" fill="none"/>
<path d="M1167.59 1106.4v3.89M1214.53 1106.4v3.89M1261.48 1106.4v3.89M1308.42 1106.4v3.89M1355.37 1106.4v3.89M1402.31 1106.4v3.89M1135.2 1106.4h-3.89M1135.2 1075.05h-3.89M1135.2 1043.7h-3.89M1135.2 1012.34h-3.89M1135.2 980.99h-3.89M1135.2 949.64h-3.89M1135.2 918.29h-3.89M1135.2 886.93h-3.89" stroke="#000" stroke-width="0.95" fill="none"/>
<rect x="1135.2" y="859.5" width="299.5" height="246.9" fill="none" stroke="#000" stroke-width="0.95"/>
<text transform="translate(1285.45 853.03) rotate(0.05)" font-size="18.03" text-anchor="middle">Classifier : BR</text>
<text transform="translate(1127.41 1110.51) rotate(0.05)" font-size="11.27" text-anchor="end">0.0</text>
<text transform="translate(1127.41 1079.16) rotate(0.05)" font-size="11.27" text-anchor="end">0.1</text>
<text transform="translate(1127.41 1047.81) rotate(0.05)" font-size="11.27" text-anchor="end">0.2</text>
<text transform="translate(1127.41 1016.46) rotate(0.05)" font-size="11.27" text-anchor="end">0.3</text>
<text transform="translate(1127.41 985.1) rotate(0.05)" font-size="11.27" text-anchor="end">0.4</text>
<text transform="translate(1127.41 953.75) rotate(0.05)" font-size="11.27" text-anchor="end">0.5</text>
<text transform="translate(1127.41 922.4) rotate(0.05)" font-size="11.27" text-anchor="end">0.6</text>
<text transform="translate(1127.41 891.05) rotate(0.05)" font-size="11.27" text-anchor="end">0.7</text>
<text transform="translate(1167.59 1138.43) rotate(-45)" y="3.73" font-size="13.52" text-anchor="middle">Original</text>
<text transform="translate(1214.53 1139.03) rotate(-45)" y="3.73" font-size="13.52" text-anchor="middle">Top 80%</text>
<text transform="translate(1261.48 1139.03) rotate(-45)" y="3.73" font-size="13.52" text-anchor="middle">Top 60%</text>
<text transform="translate(1308.42 1139.03) rotate(-45)" y="3.73" font-size="13.52" text-anchor="middle">Top 50%</text>
<text transform="translate(1355.37 1139.03) rotate(-45)" y="3.73" font-size="13.52" text-anchor="middle">Top 40%</text>
<text transform="translate(1402.31 1139.03) rotate(-45)" y="3.73" font-size="13.52" text-anchor="middle">Top 20%</text>
<text transform="translate(1284.95 1180.28) rotate(0.05)" font-size="15.73" text-anchor="middle">Selected Features of medical dataset</text>
<text transform="translate(1101.32 983.35) rotate(-89.95)" font-size="15.73" text-anchor="middle">F1 score of medical dataset</text></g>
<g><rect x="67.61" y="1239.67" width="37.55" height="222.93" fill="#0000ff"/>
<rect x="114.56" y="1230.51" width="37.55" height="232.09" fill="#ffa500"/>
<rect x="161.5" y="1227.46" width="37.55" height="235.14" fill="#008000"/>
<rect x="208.44" y="1264.1" width="37.55" height="198.5" fill="#ff0000"/>
<rect x="255.39" y="1233.56" width="37.55" height="229.04" fill="#800080"/>
<rect x="302.33" y="1245.78" width="37.55" height="216.82" fill="#a52a2a"/>
<path d="M86.39 1215.7V1462.6M133.33 1215.7V1462.6M180.28 1215.7V1462.6M227.22 1215.7V1462.6M274.17 1215.7V1462.6M321.11 1215.7V1462.6M54 1462.6H353.5M54 1432.06H353.5M54 1401.52H353.5M54 1370.99H353.5M54 1340.45H353.5M54 1309.91H353.5M54 1279.37H353.5M54 1248.83H353.5M54 1218.3H353.5" stroke="#b0b0b0" stroke-width="0.95" fill="none"/>
<path d="M86.39 1462.6v3.89M133.33 1462.6v3.89M180.28 1462.6v3.89M227.22 1462.6v3.89M274.17 1462.6v3.89M321.11 1462.6v3.89M54 1462.6h-3.89M54 1432.06h-3.89M54 1401.52h-3.89M54 1370.99h-3.89M54 1340.45h-3.89M54 1309.91h-3.89M54 1279.37h-3.89M54 1248.83h-3.89M54 1218.3h-3.89" stroke="#000" stroke-width="0.95" fill="none"/>
<rect x="54" y="1215.7" width="299.5" height="246.9" fill="none" stroke="#000" stroke-width="0.95"/>
<text transform="translate(204.25 1209.23) rotate(0.05)" font-size="18.03" text-anchor="middle">Classifier : CC</text>
<text transform="translate(46.21 1466.71) rotate(0.05)" font-size="11.27" text-anchor="end">0.0</text>
<text transform="translate(46.21 1436.18) rotate(0.05)" font-size="11.27" text-anchor="end">0.1</text>
<text transform="translate(46.21 1405.64) rotate(0.05)" font-size="11.27" text-anchor="end">0.2</text>
<text transform="translate(46.21 1375.1) rotate(0.05)" font-size="11.27" text-anchor="end">0.3</text>
<text transform="translate(46.21 1344.56) rotate(0.05)" font-size="11.27" text-anchor="end">0.4</text>
<text transform="translate(46.21 1314.02) rotate(0.05)" font-size="11.27" text-anchor="end">0.5</text>
<text transform="translate(46.21 1283.49) rotate(0.05)" font-size="11.27" text-anchor="end">0.6</text>
<text transform="translate(46.21 1252.95) rotate(0.05)" font-size="11.27" text-anchor="end">0.7</text>
<text transform="translate(46.21 1222.41) rotate(0.05)" font-size="11.27" text-anchor="end">0.8</text>
<text transform="translate(86.39 1494.63) rotate(-45)" y="3.73" font-size="13.52" text-anchor="middle">Original</text>
<text transform="translate(133.33 1495.23) rotate(-45)" y="3.73" font-size="13.52" text-anchor="middle">Top 80%</text>
<text transform="translate(180.28 1495.23) rotate(-45)" y="3.73" font-size="13.52" text-anchor="middle">Top 60%</text>
<text transform="translate(227.22 1495.23) rotate(-45)" y="3.73" font-size="13.52" text-anchor="middle">Top 50%</text>
<text transform="translate(274.17 1495.23) rotate(-45)" y="3.73" font-size="13.52" text-anchor="middle">Top 40%</text>
<text transform="translate(321.11 1495.23) rotate(-45)" y="3.73" font-size="13.52" text-anchor="middle">Top 20%</text>
<text transform="translate(203.75 1536.48) rotate(0.05)" font-size="15.73" text-anchor="middle">Selected Features of medical dataset</text>
<text transform="translate(20.12 1339.55) rotate(-89.95)" font-size="15.73" text-anchor="middle">F1 score of medical dataset</text></g>
<g><rect x="428.01" y="1227.46" width="37.55" height="235.14" fill="#0000ff"/>
<rect x="474.96" y="1233.41" width="37.55" height="229.19" fill="#ffa500"/>
<rect x="521.9" y="1227.46" width="37.55" height="235.14" fill="#008000"/>
<rect x="568.84" y="1233.41" width="37.55" height="229.19" fill="#ff0000"/>
<rect x="615.79" y="1245.32" width="37.55" height="217.28" fill="#800080"/>
<rect x="662.73" y="1257.22" width="37.55" height="205.38" fill="#a52a2a"/>
<path d="M446.79 1215.7V1462.6M493.73 1215.7V1462.6M540.68 1215.7V1462.6M587.62 1215.7V1462.6M634.57 1215.7V1462.6M681.51 1215.7V1462.6M414.4 1462.6H713.9M414.4 1432.84H713.9M414.4 1403.07H713.9M414.4 1373.31H713.9M414.4 1343.54H713.9M414.4 1313.78H713.9M414.4 1284.01H713.9M414.4 1254.25H713.9M414.4 1224.48H713.9" stroke="#b0b0b0" stroke-width="0.95" fill="none"/>
<path d="M446.79 1462.6v3.89M493.73 1462.6v3.89M540.68 1462.6v3.89M587.62 1462.6v3.89M634.57 1462.6v3.89M681.51 1462.6v3.89M414.4 1462.6h-3.89M414.4 1432.84h-3.89M414.4 1403.07h-3.89M414.4 1373.31h-3.89M414.4 1343.54h-3.89M414.4 1313.78h-3.89M414.4 1284.01h-3.89M414.4 1254.25h-3.89M414.4 1224.48h-3.89" stroke="#000" stroke-width="0.95" fill="none"/>
<rect x="414.4" y="1215.7" width="299.5" height="246.9" fill="none" stroke="#000" stroke-width="0.95"/>
<text transform="translate(564.65 1209.23) rotate(0.05)" font-size="18.03" text-anchor="middle">Classifier : LP</text>
<text transform="translate(406.61 1466.71) rotate(0.05)" font-size="11.27" text-anchor="end">0.0</text>
<text transform="translate(406.61 1436.95) rotate(0.05)" font-size="11.27" text-anchor="end">0.1</text>
<text transform="translate(406.61 1407.18) rotate(0.05)" font-size="11.27" text-anchor="end">0.2</text>
<text transform="translate(406.61 1377.42) rotate(0.05)" font-size="11.27" text-anchor="end">0.3</text>
<text transform="translate(406.61 1347.65) rotate(0.05)" font-size="11.27" text-anchor="end">0.4</text>
<text transform="translate(406.61 1317.89) rotate(0.05)" font-size="11.27" text-anchor="end">0.5</text>
<text transform="translate(406.61 1288.12) rotate(0.05)" font-size="11.27" text-anchor="end">0.6</text>
<text transform="translate(406.61 1258.36) rotate(0.05)" font-size="11.27" text-anchor="end">0.7</text>
<text transform="translate(406.61 1228.59) rotate(0.05)" font-size="11.27" text-anchor="end">0.8</text>
<text transform="translate(446.79 1494.63) rotate(-45)" y="3.73" font-size="13.52" text-anchor="middle">Original</text>
<text transform="translate(493.73 1495.23) rotate(-45)" y="3.73" font-size="13.52" text-anchor="middle">Top 80%</text>
<text transform="translate(540.68 1495.23) rotate(-45)" y="3.73" font-size="13.52" text-anchor="middle">Top 60%</text>
<text transform="translate(587.62 1495.23) rotate(-45)" y="3.73" font-size="13.52" text-anchor="middle">Top 50%</text>
<text transform="translate(634.57 1495.23) rotate(-45)" y="3.73" font-size="13.52" text-anchor="middle">Top 40%</text>
<text transform="translate(681.51 1495.23) rotate(-45)" y="3.73" font-size="13.52" text-anchor="middle">Top 20%</text>
<text transform="translate(564.15 1536.48) rotate(0.05)" font-size="15.73" text-anchor="middle">Selected Features of medical dataset</text>
<text transform="translate(380.52 1339.55) rotate(-89.95)" font-size="15.73" text-anchor="middle">F1 score of medical dataset</text></g>
<g><rect x="788.41" y="1236.86" width="37.55" height="225.74" fill="#0000ff"/>
<rect x="835.36" y="1227.46" width="37.55" height="235.14" fill="#ffa500"/>
<rect x="882.3" y="1227.46" width="37.55" height="235.14" fill="#008000"/>
<rect x="929.24" y="1227.46" width="37.55" height="235.14" fill="#ff0000"/>
<rect x="976.19" y="1233.73" width="37.55" height="228.87" fill="#800080"/>
<rect x="1023.13" y="1246.27" width="37.55" height="216.33" fill="#a52a2a"/>
<path d="M807.19 1215.7V1462.6M854.13 1215.7V1462.6M901.08 1215.7V1462.6M948.02 1215.7V1462.6M994.97 1215.7V1462.6M1041.91 1215.7V1462.6M774.8 1462.6H1074.3M774.8 1431.25H1074.3M774.8 1399.9H1074.3M774.8 1368.54H1074.3M774.8 1337.19H1074.3M774.8 1305.84H1074.3M774.8 1274.49H1074.3M774.8 1243.13H1074.3" stroke="#b0b0b0" stroke-width="0.95" fill="none"/>
<path d="M807.19 1462.6v3.89M854.13 1462.6v3.89M901.08 1462.6v3.89M948.02 1462.6v3.89M994.97 1462.6v3.89M1041.91 1462.6v3.89M774.8 1462.6h-3.89M774.8 1431.25h-3.89M774.8 1399.9h-3.89M774.8 1368.54h-3.89M774.8 1337.19h-3.89M774.8 1305.84h-3.89M774.8 1274.49h-3.89M774.8 1243.13h-3.89" stroke="#000" stroke-width="0.95" fill="none"/>
<rect x="774.8" y="1215.7" width="299.5" height="246.9" fill="none" stroke="#000" stroke-width="0.95"/>
<text transform="translate(925.05 1209.23) rotate(0.05)" font-size="18.03" text-anchor="middle">Classifier : LSPU</text>
<text transform="translate(767.01 1466.71) rotate(0.05)" font-size="11.27" text-anchor="end">0.0</text>
<text transform="translate(767.01 1435.36) rotate(0.05)" font-size="11.27" text-anchor="end">0.1</text>
<text transform="translate(767.01 1404.01) rotate(0.05)" font-size="11.27" text-anchor="end">0.2</text>
<text transform="translate(767.01 1372.66) rotate(0.05)" font-size="11.27" text-anchor="end">0.3</text>
<text transform="translate(767.01 1341.3) rotate(0.05)" font-size="11.27" text-anchor="end">0.4</text>
<text transform="translate(767.01 1309.95) rotate(0.05)" font-size="11.27" text-anchor="end">0.5</text>
<text transform="translate(767.01 1278.6) rotate(0.05)" font-size="11.27" text-anchor="end">0.6</text>
<text transform="translate(767.01 1247.25) rotate(0.05)" font-size="11.27" text-anchor="end">0.7</text>
<text transform="translate(807.19 1494.63) rotate(-45)" y="3.73" font-size="13.52" text-anchor="middle">Original</text>
<text transform="translate(854.13 1495.23) rotate(-45)" y="3.73" font-size="13.52" text-anchor="middle">Top 80%</text>
<text transform="translate(901.08 1495.23) rotate(-45)" y="3.73" font-size="13.52" text-anchor="middle">Top 60%</text>
<text transform="translate(948.02 1495.23) rotate(-45)" y="3.73" font-size="13.52" text-anchor="middle">Top 50%</text>
<text transform="translate(994.97 1495.23) rotate(-45)" y="3.73" font-size="13.52" text-anchor="middle">Top 40%</text>
<text transform="translate(1041.91 1495.23) rotate(-45)" y="3.73" font-size="13.52" text-anchor="middle">Top 20%</text>
<text transform="translate(924.55 1536.48) rotate(0.05)" font-size="15.73" text-anchor="middle">Selected Features of medical dataset</text>
<text transform="translate(740.92 1339.55) rotate(-89.95)" font-size="15.73" text-anchor="middle">F1 score of medical dataset</text></g>
<g><rect x="1148.81" y="1233.65" width="37.55" height="228.95" fill="#0000ff"/>
<rect x="1195.76" y="1233.65" width="37.55" height="228.95" fill="#ffa500"/>
<rect x="1242.7" y="1227.46" width="37.55" height="235.14" fill="#008000"/>
<rect x="1289.64" y="1258.4" width="37.55" height="204.2" fill="#ff0000"/>
<rect x="1336.59" y="1233.65" width="37.55" height="228.95" fill="#800080"/>
<rect x="1383.53" y="1239.83" width="37.55" height="222.77" fill="#a52a2a"/>
<path d="M1167.59 1215.7V1462.6M1214.53 1215.7V1462.6M1261.48 1215.7V1462.6M1308.42 1215.7V1462.6M1355.37 1215.7V1462.6M1402.31 1215.7V1462.6M1135.2 1462.6H1434.7M1135.2 1431.66H1434.7M1135.2 1400.72H1434.7M1135.2 1369.78H1434.7M1135.2 1338.84H1434.7M1135.2 1307.9H1434.7M1135.2 1276.96H1434.7M1135.2 1246.02H1434.7" stroke="#b0b0b0" stroke-width="0.95" fill="none"/>
<path d="M1167.59 1462.6v3.89M1214.53 1462.6v3.89M1261.48 1462.6v3.89M1308.42 1462.6v3.89M1355.37 1462.6v3.89M1402.31 1462.6v3.89M1135.2 1462.6h-3.89M1135.2 1431.66h-3.89M1135.2 1400.72h-3.89M1135.2 1369.78h-3.89M1135.2 1338.84h-3.89M1135.2 1307.9h-3.89M1135.2 1276.96h-3.89M1135.2 1246.02h-3.89" stroke="#000" stroke-width="0.95" fill="none"/>
<rect x="1135.2" y="1215.7" width="299.5" height="246.9" fill="none" stroke="#000" stroke-width="0.95"/>
<text transform="translate(1285.45 1209.23) rotate(0.05)" font-size="18.03" text-anchor="middle">Classifier : LSPV</text>
<text transform="translate(1127.41 1467.54) rotate(0.05)" font-size="13.52" text-anchor="end">0.0</text>
<text transform="translate(1127.41 1436.6) rotate(0.05)" font-size="13.52" text-anchor="end">0.1</text>
<text transform="translate(1127.41 1405.66) rotate(0.05)" font-size="13.52" text-anchor="end">0.2</text>
<text transform="translate(1127.41 1374.72) rotate(0.05)" font-size="13.52" text-anchor="end">0.3</text>
<text transform="translate(1127.41 1343.78) rotate(0.05)" font-size="13.52" text-anchor="end">0.4</text>
<text transform="translate(1127.41 1312.84) rotate(0.05)" font-size="13.52" text-anchor="end">0.5</text>
<text transform="translate(1127.41 1281.9) rotate(0.05)" font-size="13.52" text-anchor="end">0.6</text>
<text transform="translate(1127.41 1250.96) rotate(0.05)" font-size="13.52" text-anchor="end">0.7</text>
<text transform="translate(1167.59 1494.63) rotate(-45)" y="3.73" font-size="13.52" text-anchor="middle">Original</text>
<text transform="translate(1214.53 1495.23) rotate(-45)" y="3.73" font-size="13.52" text-anchor="middle">Top 80%</text>
<text transform="translate(1261.48 1495.23) rotate(-45)" y="3.73" font-size="13.52" text-anchor="middle">Top 60%</text>
<text transform="translate(1308.42 1495.23) rotate(-45)" y="3.73" font-size="13.52" text-anchor="middle">Top 50%</text>
<text transform="translate(1355.37 1495.23) rotate(-45)" y="3.73" font-size="13.52" text-anchor="middle">Top 40%</text>
<text transform="translate(1402.31 1495.23) rotate(-45)" y="3.73" font-size="13.52" text-anchor="middle">Top 20%</text>
<text transform="translate(1284.95 1536.48) rotate(0.05)" font-size="15.73" text-anchor="middle">Selected Features of medical dataset</text>
<text transform="translate(1097.73 1339.55) rotate(-89.95)" font-size="15.73" text-anchor="middle">F1 score of medical dataset</text></g>
<text class="cap" transform="translate(475 1598.7) rotate(0.03)"><tspan x="0" textLength="47.36" lengthAdjust="spacingAndGlyphs">(b)</tspan> <tspan x="59.18" textLength="40.93" lengthAdjust="spacingAndGlyphs">F1</tspan> <tspan x="111.93" textLength="77.18" lengthAdjust="spacingAndGlyphs">score</tspan> <tspan x="200.93" textLength="28.61" lengthAdjust="spacingAndGlyphs">of</tspan> <tspan x="241.36" textLength="118.32" lengthAdjust="spacingAndGlyphs">medical</tspan> <tspan x="371.51" textLength="122.48" lengthAdjust="spacingAndGlyphs">dataset.</tspan></text>
<g><rect x="73.92" y="1743.23" width="37.57" height="199.87" fill="#0000ff"/>
<rect x="120.88" y="1743.23" width="37.57" height="199.87" fill="#ffa500"/>
<rect x="167.84" y="1707.96" width="37.57" height="235.14" fill="#008000"/>
<rect x="214.8" y="1715.8" width="37.57" height="227.3" fill="#ff0000"/>
<rect x="261.76" y="1739.31" width="37.57" height="203.79" fill="#800080"/>
<rect x="308.71" y="1735.39" width="37.57" height="207.71" fill="#a52a2a"/>
<path d="M92.7 1696.2V1943.1M139.66 1696.2V1943.1M186.62 1696.2V1943.1M233.58 1696.2V1943.1M280.54 1696.2V1943.1M327.5 1696.2V1943.1M60.3 1943.1H359.9M60.3 1903.91H359.9M60.3 1864.72H359.9M60.3 1825.53H359.9M60.3 1786.34H359.9M60.3 1747.15H359.9M60.3 1707.96H359.9" stroke="#b0b0b0" stroke-width="0.95" fill="none"/>
<path d="M92.7 1943.1v3.89M139.66 1943.1v3.89M186.62 1943.1v3.89M233.58 1943.1v3.89M280.54 1943.1v3.89M327.5 1943.1v3.89M60.3 1943.1h-3.89M60.3 1903.91h-3.89M60.3 1864.72h-3.89M60.3 1825.53h-3.89M60.3 1786.34h-3.89M60.3 1747.15h-3.89M60.3 1707.96h-3.89" stroke="#000" stroke-width="0.95" fill="none"/>
<rect x="60.3" y="1696.2" width="299.6" height="246.9" fill="none" stroke="#000" stroke-width="0.95"/>
<text transform="translate(210.6 1689.73) rotate(0.05)" font-size="18.03" text-anchor="middle">Classifier : MLKNN</text>
<text transform="translate(52.51 1947.21) rotate(0.05)" font-size="11.27" text-anchor="end">0.0</text>
<text transform="translate(52.51 1908.02) rotate(0.05)" font-size="11.27" text-anchor="end">0.1</text>
<text transform="translate(52.51 1868.83) rotate(0.05)" font-size="11.27" text-anchor="end">0.2</text>
<text transform="translate(52.51 1829.64) rotate(0.05)" font-size="11.27" text-anchor="end">0.3</text>
<text transform="translate(52.51 1790.45) rotate(0.05)" font-size="11.27" text-anchor="end">0.4</text>
<text transform="translate(52.51 1751.26) rotate(0.05)" font-size="11.27" text-anchor="end">0.5</text>
<text transform="translate(52.51 1712.07) rotate(0.05)" font-size="11.27" text-anchor="end">0.6</text>
<text transform="translate(92.7 1975.13) rotate(-45)" y="3.73" font-size="13.52" text-anchor="middle">Original</text>
<text transform="translate(139.66 1975.73) rotate(-45)" y="3.73" font-size="13.52" text-anchor="middle">Top 80%</text>
<text transform="translate(186.62 1975.73) rotate(-45)" y="3.73" font-size="13.52" text-anchor="middle">Top 60%</text>
<text transform="translate(233.58 1975.73) rotate(-45)" y="3.73" font-size="13.52" text-anchor="middle">Top 50%</text>
<text transform="translate(280.54 1975.73) rotate(-45)" y="3.73" font-size="13.52" text-anchor="middle">Top 40%</text>
<text transform="translate(327.5 1975.73) rotate(-45)" y="3.73" font-size="13.52" text-anchor="middle">Top 20%</text>
<text transform="translate(210.1 2016.98) rotate(0.05)" font-size="15.73" text-anchor="middle">Selected Features of emotions dataset</text>
<text transform="translate(26.42 1820.05) rotate(-89.95)" font-size="15.73" text-anchor="middle">F1 score of emotions dataset</text></g>
<g><rect x="434.17" y="1707.96" width="37.57" height="235.14" fill="#0000ff"/>
<rect x="481.13" y="1711.81" width="37.57" height="231.29" fill="#ffa500"/>
<rect x="528.09" y="1731.09" width="37.57" height="212.01" fill="#008000"/>
<rect x="575.05" y="1731.09" width="37.57" height="212.01" fill="#ff0000"/>
<rect x="622.01" y="1723.38" width="37.57" height="219.72" fill="#800080"/>
<rect x="668.96" y="1715.67" width="37.57" height="227.43" fill="#a52a2a"/>
<path d="M452.95 1696.2V1943.1M499.91 1696.2V1943.1M546.87 1696.2V1943.1M593.83 1696.2V1943.1M640.79 1696.2V1943.1M687.75 1696.2V1943.1M420.55 1943.1H720.15M420.55 1904.55H720.15M420.55 1866H720.15M420.55 1827.46H720.15M420.55 1788.91H720.15M420.55 1750.36H720.15M420.55 1711.81H720.15" stroke="#b0b0b0" stroke-width="0.95" fill="none"/>
<path d="M452.95 1943.1v3.89M499.91 1943.1v3.89M546.87 1943.1v3.89M593.83 1943.1v3.89M640.79 1943.1v3.89M687.75 1943.1v3.89M420.55 1943.1h-3.89M420.55 1904.55h-3.89M420.55 1866h-3.89M420.55 1827.46h-3.89M420.55 1788.91h-3.89M420.55 1750.36h-3.89M420.55 1711.81h-3.89" stroke="#000" stroke-width="0.95" fill="none"/>
<rect x="420.55" y="1696.2" width="299.6" height="246.9" fill="none" stroke="#000" stroke-width="0.95"/>
<text transform="translate(570.85 1689.73) rotate(0.05)" font-size="18.03" text-anchor="middle">Classifier : MLTSVM</text>
<text transform="translate(412.76 1947.21) rotate(0.05)" font-size="11.27" text-anchor="end">0.0</text>
<text transform="translate(412.76 1908.67) rotate(0.05)" font-size="11.27" text-anchor="end">0.1</text>
<text transform="translate(412.76 1870.12) rotate(0.05)" font-size="11.27" text-anchor="end">0.2</text>
<text transform="translate(412.76 1831.57) rotate(0.05)" font-size="11.27" text-anchor="end">0.3</text>
<text transform="translate(412.76 1793.02) rotate(0.05)" font-size="11.27" text-anchor="end">0.4</text>
<text transform="translate(412.76 1754.47) rotate(0.05)" font-size="11.27" text-anchor="end">0.5</text>
<text transform="translate(412.76 1715.93) rotate(0.05)" font-size="11.27" text-anchor="end">0.6</text>
<text transform="translate(452.95 1975.13) rotate(-45)" y="3.73" font-size="13.52" text-anchor="middle">Original</text>
<text transform="translate(499.91 1975.73) rotate(-45)" y="3.73" font-size="13.52" text-anchor="middle">Top 80%</text>
<text transform="translate(546.87 1975.73) rotate(-45)" y="3.73" font-size="13.52" text-anchor="middle">Top 60%</text>
<text transform="translate(593.83 1975.73) rotate(-45)" y="3.73" font-size="13.52" text-anchor="middle">Top 50%</text>
<text transform="translate(640.79 1975.73) rotate(-45)" y="3.73" font-size="13.52" text-anchor="middle">Top 40%</text>
<text transform="translate(687.75 1975.73) rotate(-45)" y="3.73" font-size="13.52" text-anchor="middle">Top 20%</text>
<text transform="translate(570.35 2016.98) rotate(0.05)" font-size="15.73" text-anchor="middle">Selected Features of emotions dataset</text>
<text transform="translate(386.67 1820.05) rotate(-89.95)" font-size="15.73" text-anchor="middle">F1 score of emotions dataset</text></g>
<g><rect x="794.42" y="1743.83" width="37.57" height="199.27" fill="#0000ff"/>
<rect x="841.38" y="1747.81" width="37.57" height="195.29" fill="#ffa500"/>
<rect x="888.34" y="1751.8" width="37.57" height="191.3" fill="#008000"/>
<rect x="935.3" y="1707.96" width="37.57" height="235.14" fill="#ff0000"/>
<rect x="982.26" y="1727.88" width="37.57" height="215.22" fill="#800080"/>
<rect x="1029.21" y="1727.88" width="37.57" height="215.22" fill="#a52a2a"/>
<path d="M813.2 1696.2V1943.1M860.16 1696.2V1943.1M907.12 1696.2V1943.1M954.08 1696.2V1943.1M1001.04 1696.2V1943.1M1048 1696.2V1943.1M780.8 1943.1H1080.4M780.8 1903.25H1080.4M780.8 1863.39H1080.4M780.8 1823.54H1080.4M780.8 1783.68H1080.4M780.8 1743.83H1080.4M780.8 1703.97H1080.4" stroke="#b0b0b0" stroke-width="0.95" fill="none"/>
<path d="M813.2 1943.1v3.89M860.16 1943.1v3.89M907.12 1943.1v3.89M954.08 1943.1v3.89M1001.04 1943.1v3.89M1048 1943.1v3.89M780.8 1943.1h-3.89M780.8 1903.25h-3.89M780.8 1863.39h-3.89M780.8 1823.54h-3.89M780.8 1783.68h-3.89M780.8 1743.83h-3.89M780.8 1703.97h-3.89" stroke="#000" stroke-width="0.95" fill="none"/>
<rect x="780.8" y="1696.2" width="299.6" height="246.9" fill="none" stroke="#000" stroke-width="0.95"/>
<text transform="translate(931.1 1689.73) rotate(0.05)" font-size="18.03" text-anchor="middle">Classifier : BRKNNa</text>
<text transform="translate(773.01 1947.21) rotate(0.05)" font-size="11.27" text-anchor="end">0.0</text>
<text transform="translate(773.01 1907.36) rotate(0.05)" font-size="11.27" text-anchor="end">0.1</text>
<text transform="translate(773.01 1867.5) rotate(0.05)" font-size="11.27" text-anchor="end">0.2</text>
<text transform="translate(773.01 1827.65) rotate(0.05)" font-size="11.27" text-anchor="end">0.3</text>
<text transform="translate(773.01 1787.79) rotate(0.05)" font-size="11.27" text-anchor="end">0.4</text>
<text transform="translate(773.01 1747.94) rotate(0.05)" font-size="11.27" text-anchor="end">0.5</text>
<text transform="translate(773.01 1708.09) rotate(0.05)" font-size="11.27" text-anchor="end">0.6</text>
<text transform="translate(813.2 1975.13) rotate(-45)" y="3.73" font-size="13.52" text-anchor="middle">Original</text>
<text transform="translate(860.16 1975.73) rotate(-45)" y="3.73" font-size="13.52" text-anchor="middle">Top 80%</text>
<text transform="translate(907.12 1975.73) rotate(-45)" y="3.73" font-size="13.52" text-anchor="middle">Top 60%</text>
<text transform="translate(954.08 1975.73) rotate(-45)" y="3.73" font-size="13.52" text-anchor="middle">Top 50%</text>
<text transform="translate(1001.04 1975.73) rotate(-45)" y="3.73" font-size="13.52" text-anchor="middle">Top 40%</text>
<text transform="translate(1048 1975.73) rotate(-45)" y="3.73" font-size="13.52" text-anchor="middle">Top 20%</text>
<text transform="translate(930.6 2016.98) rotate(0.05)" font-size="15.73" text-anchor="middle">Selected Features of emotions dataset</text>
<text transform="translate(746.92 1820.05) rotate(-89.95)" font-size="15.73" text-anchor="middle">F1 score of emotions dataset</text></g>
<g><rect x="1154.67" y="1707.96" width="37.57" height="235.14" fill="#0000ff"/>
<rect x="1201.63" y="1718.18" width="37.57" height="224.92" fill="#ffa500"/>
<rect x="1248.59" y="1714.77" width="37.57" height="228.33" fill="#008000"/>
<rect x="1295.55" y="1711.37" width="37.57" height="231.73" fill="#ff0000"/>
<rect x="1342.51" y="1714.77" width="37.57" height="228.33" fill="#800080"/>
<rect x="1389.46" y="1731.81" width="37.57" height="211.29" fill="#a52a2a"/>
<path d="M1173.45 1696.2V1943.1M1220.41 1696.2V1943.1M1267.37 1696.2V1943.1M1314.33 1696.2V1943.1M1361.29 1696.2V1943.1M1408.25 1696.2V1943.1M1141.05 1943.1H1440.65M1141.05 1909.02H1440.65M1141.05 1874.94H1440.65M1141.05 1840.86H1440.65M1141.05 1806.79H1440.65M1141.05 1772.71H1440.65M1141.05 1738.63H1440.65M1141.05 1704.55H1440.65" stroke="#b0b0b0" stroke-width="0.95" fill="none"/>
<path d="M1173.45 1943.1v3.89M1220.41 1943.1v3.89M1267.37 1943.1v3.89M1314.33 1943.1v3.89M1361.29 1943.1v3.89M1408.25 1943.1v3.89M1141.05 1943.1h-3.89M1141.05 1909.02h-3.89M1141.05 1874.94h-3.89M1141.05 1840.86h-3.89M1141.05 1806.79h-3.89M1141.05 1772.71h-3.89M1141.05 1738.63h-3.89M1141.05 1704.55h-3.89" stroke="#000" stroke-width="0.95" fill="none"/>
<rect x="1141.05" y="1696.2" width="299.6" height="246.9" fill="none" stroke="#000" stroke-width="0.95"/>
<text transform="translate(1291.35 1689.73) rotate(0.05)" font-size="18.03" text-anchor="middle">Classifier : BR</text>
<text transform="translate(1133.26 1947.21) rotate(0.05)" font-size="11.27" text-anchor="end">0.0</text>
<text transform="translate(1133.26 1913.13) rotate(0.05)" font-size="11.27" text-anchor="end">0.1</text>
<text transform="translate(1133.26 1879.06) rotate(0.05)" font-size="11.27" text-anchor="end">0.2</text>
<text transform="translate(1133.26 1844.98) rotate(0.05)" font-size="11.27" text-anchor="end">0.3</text>
<text transform="translate(1133.26 1810.9) rotate(0.05)" font-size="11.27" text-anchor="end">0.4</text>
<text transform="translate(1133.26 1776.82) rotate(0.05)" font-size="11.27" text-anchor="end">0.5</text>
<text transform="translate(1133.26 1742.74) rotate(0.05)" font-size="11.27" text-anchor="end">0.6</text>
<text transform="translate(1133.26 1708.66) rotate(0.05)" font-size="11.27" text-anchor="end">0.7</text>
<text transform="translate(1173.45 1975.13) rotate(-45)" y="3.73" font-size="13.52" text-anchor="middle">Original</text>
<text transform="translate(1220.41 1975.73) rotate(-45)" y="3.73" font-size="13.52" text-anchor="middle">Top 80%</text>
<text transform="translate(1267.37 1975.73) rotate(-45)" y="3.73" font-size="13.52" text-anchor="middle">Top 60%</text>
<text transform="translate(1314.33 1975.73) rotate(-45)" y="3.73" font-size="13.52" text-anchor="middle">Top 50%</text>
<text transform="translate(1361.29 1975.73) rotate(-45)" y="3.73" font-size="13.52" text-anchor="middle">Top 40%</text>
<text transform="translate(1408.25 1975.73) rotate(-45)" y="3.73" font-size="13.52" text-anchor="middle">Top 20%</text>
<text transform="translate(1290.85 2016.98) rotate(0.05)" font-size="15.73" text-anchor="middle">Selected Features of emotions dataset</text>
<text transform="translate(1107.17 1820.05) rotate(-89.95)" font-size="15.73" text-anchor="middle">F1 score of emotions dataset</text></g>
<g><rect x="73.92" y="2067.47" width="37.57" height="231.78" fill="#0000ff"/>
<rect x="120.88" y="2067.47" width="37.57" height="231.78" fill="#ffa500"/>
<rect x="167.84" y="2064.11" width="37.57" height="235.14" fill="#008000"/>
<rect x="214.8" y="2067.47" width="37.57" height="231.78" fill="#ff0000"/>
<rect x="261.76" y="2070.83" width="37.57" height="228.42" fill="#800080"/>
<rect x="308.71" y="2084.26" width="37.57" height="214.99" fill="#a52a2a"/>
<path d="M92.7 2052.35V2299.25M139.66 2052.35V2299.25M186.62 2052.35V2299.25M233.58 2052.35V2299.25M280.54 2052.35V2299.25M327.5 2052.35V2299.25M60.3 2299.25H359.9M60.3 2265.66H359.9M60.3 2232.07H359.9M60.3 2198.47H359.9M60.3 2164.88H359.9M60.3 2131.29H359.9M60.3 2097.7H359.9M60.3 2064.11H359.9" stroke="#b0b0b0" stroke-width="0.95" fill="none"/>
<path d="M92.7 2299.25v3.89M139.66 2299.25v3.89M186.62 2299.25v3.89M233.58 2299.25v3.89M280.54 2299.25v3.89M327.5 2299.25v3.89M60.3 2299.25h-3.89M60.3 2265.66h-3.89M60.3 2232.07h-3.89M60.3 2198.47h-3.89M60.3 2164.88h-3.89M60.3 2131.29h-3.89M60.3 2097.7h-3.89M60.3 2064.11h-3.89" stroke="#000" stroke-width="0.95" fill="none"/>
<rect x="60.3" y="2052.35" width="299.6" height="246.9" fill="none" stroke="#000" stroke-width="0.95"/>
<text transform="translate(210.6 2045.88) rotate(0.05)" font-size="18.03" text-anchor="middle">Classifier : CC</text>
<text transform="translate(52.51 2303.36) rotate(0.05)" font-size="11.27" text-anchor="end">0.0</text>
<text transform="translate(52.51 2269.77) rotate(0.05)" font-size="11.27" text-anchor="end">0.1</text>
<text transform="translate(52.51 2236.18) rotate(0.05)" font-size="11.27" text-anchor="end">0.2</text>
<text transform="translate(52.51 2202.59) rotate(0.05)" font-size="11.27" text-anchor="end">0.3</text>
<text transform="translate(52.51 2169) rotate(0.05)" font-size="11.27" text-anchor="end">0.4</text>
<text transform="translate(52.51 2135.4) rotate(0.05)" font-size="11.27" text-anchor="end">0.5</text>
<text transform="translate(52.51 2101.81) rotate(0.05)" font-size="11.27" text-anchor="end">0.6</text>
<text transform="translate(52.51 2068.22) rotate(0.05)" font-size="11.27" text-anchor="end">0.7</text>
<text transform="translate(92.7 2331.28) rotate(-45)" y="3.73" font-size="13.52" text-anchor="middle">Original</text>
<text transform="translate(139.66 2331.88) rotate(-45)" y="3.73" font-size="13.52" text-anchor="middle">Top 80%</text>
<text transform="translate(186.62 2331.88) rotate(-45)" y="3.73" font-size="13.52" text-anchor="middle">Top 60%</text>
<text transform="translate(233.58 2331.88) rotate(-45)" y="3.73" font-size="13.52" text-anchor="middle">Top 50%</text>
<text transform="translate(280.54 2331.88) rotate(-45)" y="3.73" font-size="13.52" text-anchor="middle">Top 40%</text>
<text transform="translate(327.5 2331.88) rotate(-45)" y="3.73" font-size="13.52" text-anchor="middle">Top 20%</text>
<text transform="translate(210.1 2373.13) rotate(0.05)" font-size="15.73" text-anchor="middle">Selected Features of emotions dataset</text>
<text transform="translate(26.42 2176.2) rotate(-89.95)" font-size="15.73" text-anchor="middle">F1 score of emotions dataset</text></g>
<g><rect x="434.17" y="2064.11" width="37.57" height="235.14" fill="#0000ff"/>
<rect x="481.13" y="2067.62" width="37.57" height="231.63" fill="#ffa500"/>
<rect x="528.09" y="2071.13" width="37.57" height="228.12" fill="#008000"/>
<rect x="575.05" y="2067.62" width="37.57" height="231.63" fill="#ff0000"/>
<rect x="622.01" y="2071.13" width="37.57" height="228.12" fill="#800080"/>
<rect x="668.96" y="2078.15" width="37.57" height="221.1" fill="#a52a2a"/>
<path d="M452.95 2052.35V2299.25M499.91 2052.35V2299.25M546.87 2052.35V2299.25M593.83 2052.35V2299.25M640.79 2052.35V2299.25M687.75 2052.35V2299.25M420.55 2299.25H720.15M420.55 2264.15H720.15M420.55 2229.06H720.15M420.55 2193.96H720.15M420.55 2158.87H720.15M420.55 2123.77H720.15M420.55 2088.67H720.15M420.55 2053.58H720.15" stroke="#b0b0b0" stroke-width="0.95" fill="none"/>
<path d="M452.95 2299.25v3.89M499.91 2299.25v3.89M546.87 2299.25v3.89M593.83 2299.25v3.89M640.79 2299.25v3.89M687.75 2299.25v3.89M420.55 2299.25h-3.89M420.55 2264.15h-3.89M420.55 2229.06h-3.89M420.55 2193.96h-3.89M420.55 2158.87h-3.89M420.55 2123.77h-3.89M420.55 2088.67h-3.89M420.55 2053.58h-3.89" stroke="#000" stroke-width="0.95" fill="none"/>
<rect x="420.55" y="2052.35" width="299.6" height="246.9" fill="none" stroke="#000" stroke-width="0.95"/>
<text transform="translate(570.85 2045.88) rotate(0.05)" font-size="18.03" text-anchor="middle">Classifier : LP</text>
<text transform="translate(412.76 2303.36) rotate(0.05)" font-size="11.27" text-anchor="end">0.0</text>
<text transform="translate(412.76 2268.27) rotate(0.05)" font-size="11.27" text-anchor="end">0.1</text>
<text transform="translate(412.76 2233.17) rotate(0.05)" font-size="11.27" text-anchor="end">0.2</text>
<text transform="translate(412.76 2198.08) rotate(0.05)" font-size="11.27" text-anchor="end">0.3</text>
<text transform="translate(412.76 2162.98) rotate(0.05)" font-size="11.27" text-anchor="end">0.4</text>
<text transform="translate(412.76 2127.88) rotate(0.05)" font-size="11.27" text-anchor="end">0.5</text>
<text transform="translate(412.76 2092.79) rotate(0.05)" font-size="11.27" text-anchor="end">0.6</text>
<text transform="translate(412.76 2057.69) rotate(0.05)" font-size="11.27" text-anchor="end">0.7</text>
<text transform="translate(452.95 2331.28) rotate(-45)" y="3.73" font-size="13.52" text-anchor="middle">Original</text>
<text transform="translate(499.91 2331.88) rotate(-45)" y="3.73" font-size="13.52" text-anchor="middle">Top 80%</text>
<text transform="translate(546.87 2331.88) rotate(-45)" y="3.73" font-size="13.52" text-anchor="middle">Top 60%</text>
<text transform="translate(593.83 2331.88) rotate(-45)" y="3.73" font-size="13.52" text-anchor="middle">Top 50%</text>
<text transform="translate(640.79 2331.88) rotate(-45)" y="3.73" font-size="13.52" text-anchor="middle">Top 40%</text>
<text transform="translate(687.75 2331.88) rotate(-45)" y="3.73" font-size="13.52" text-anchor="middle">Top 20%</text>
<text transform="translate(570.35 2373.13) rotate(0.05)" font-size="15.73" text-anchor="middle">Selected Features of emotions dataset</text>
<text transform="translate(386.67 2176.2) rotate(-89.95)" font-size="15.73" text-anchor="middle">F1 score of emotions dataset</text></g>
<g><rect x="794.42" y="2070.92" width="37.57" height="228.33" fill="#0000ff"/>
<rect x="841.38" y="2070.92" width="37.57" height="228.33" fill="#ffa500"/>
<rect x="888.34" y="2064.11" width="37.57" height="235.14" fill="#008000"/>
<rect x="935.3" y="2070.92" width="37.57" height="228.33" fill="#ff0000"/>
<rect x="982.26" y="2081.15" width="37.57" height="218.1" fill="#800080"/>
<rect x="1029.21" y="2087.96" width="37.57" height="211.29" fill="#a52a2a"/>
<path d="M813.2 2052.35V2299.25M860.16 2052.35V2299.25M907.12 2052.35V2299.25M954.08 2052.35V2299.25M1001.04 2052.35V2299.25M1048 2052.35V2299.25M780.8 2299.25H1080.4M780.8 2265.17H1080.4M780.8 2231.09H1080.4M780.8 2197.01H1080.4M780.8 2162.94H1080.4M780.8 2128.86H1080.4M780.8 2094.78H1080.4M780.8 2060.7H1080.4" stroke="#b0b0b0" stroke-width="0.95" fill="none"/>
<path d="M813.2 2299.25v3.89M860.16 2299.25v3.89M907.12 2299.25v3.89M954.08 2299.25v3.89M1001.04 2299.25v3.89M1048 2299.25v3.89M780.8 2299.25h-3.89M780.8 2265.17h-3.89M780.8 2231.09h-3.89M780.8 2197.01h-3.89M780.8 2162.94h-3.89M780.8 2128.86h-3.89M780.8 2094.78h-3.89M780.8 2060.7h-3.89" stroke="#000" stroke-width="0.95" fill="none"/>
<rect x="780.8" y="2052.35" width="299.6" height="246.9" fill="none" stroke="#000" stroke-width="0.95"/>
<text transform="translate(931.1 2045.88) rotate(0.05)" font-size="18.03" text-anchor="middle">Classifier : LSPU</text>
<text transform="translate(773.01 2303.36) rotate(0.05)" font-size="11.27" text-anchor="end">0.0</text>
<text transform="translate(773.01 2269.28) rotate(0.05)" font-size="11.27" text-anchor="end">0.1</text>
<text transform="translate(773.01 2235.21) rotate(0.05)" font-size="11.27" text-anchor="end">0.2</text>
<text transform="translate(773.01 2201.13) rotate(0.05)" font-size="11.27" text-anchor="end">0.3</text>
<text transform="translate(773.01 2167.05) rotate(0.05)" font-size="11.27" text-anchor="end">0.4</text>
<text transform="translate(773.01 2132.97) rotate(0.05)" font-size="11.27" text-anchor="end">0.5</text>
<text transform="translate(773.01 2098.89) rotate(0.05)" font-size="11.27" text-anchor="end">0.6</text>
<text transform="translate(773.01 2064.81) rotate(0.05)" font-size="11.27" text-anchor="end">0.7</text>
<text transform="translate(813.2 2331.28) rotate(-45)" y="3.73" font-size="13.52" text-anchor="middle">Original</text>
<text transform="translate(860.16 2331.88) rotate(-45)" y="3.73" font-size="13.52" text-anchor="middle">Top 80%</text>
<text transform="translate(907.12 2331.88) rotate(-45)" y="3.73" font-size="13.52" text-anchor="middle">Top 60%</text>
<text transform="translate(954.08 2331.88) rotate(-45)" y="3.73" font-size="13.52" text-anchor="middle">Top 50%</text>
<text transform="translate(1001.04 2331.88) rotate(-45)" y="3.73" font-size="13.52" text-anchor="middle">Top 40%</text>
<text transform="translate(1048 2331.88) rotate(-45)" y="3.73" font-size="13.52" text-anchor="middle">Top 20%</text>
<text transform="translate(930.6 2373.13) rotate(0.05)" font-size="15.73" text-anchor="middle">Selected Features of emotions dataset</text>
<text transform="translate(746.92 2176.2) rotate(-89.95)" font-size="15.73" text-anchor="middle">F1 score of emotions dataset</text></g>
<g><rect x="1154.67" y="2071.23" width="37.57" height="228.02" fill="#0000ff"/>
<rect x="1201.63" y="2071.23" width="37.57" height="228.02" fill="#ffa500"/>
<rect x="1248.59" y="2064.11" width="37.57" height="235.14" fill="#008000"/>
<rect x="1295.55" y="2078.36" width="37.57" height="220.89" fill="#ff0000"/>
<rect x="1342.51" y="2067.67" width="37.57" height="231.58" fill="#800080"/>
<rect x="1389.46" y="2081.92" width="37.57" height="217.33" fill="#a52a2a"/>
<path d="M1173.45 2052.35V2299.25M1220.41 2052.35V2299.25M1267.37 2052.35V2299.25M1314.33 2052.35V2299.25M1361.29 2052.35V2299.25M1408.25 2052.35V2299.25M1141.05 2299.25H1440.65M1141.05 2263.62H1440.65M1141.05 2227.99H1440.65M1141.05 2192.37H1440.65M1141.05 2156.74H1440.65M1141.05 2121.11H1440.65M1141.05 2085.48H1440.65" stroke="#b0b0b0" stroke-width="0.95" fill="none"/>
<path d="M1173.45 2299.25v3.89M1220.41 2299.25v3.89M1267.37 2299.25v3.89M1314.33 2299.25v3.89M1361.29 2299.25v3.89M1408.25 2299.25v3.89M1141.05 2299.25h-3.89M1141.05 2263.62h-3.89M1141.05 2227.99h-3.89M1141.05 2192.37h-3.89M1141.05 2156.74h-3.89M1141.05 2121.11h-3.89M1141.05 2085.48h-3.89" stroke="#000" stroke-width="0.95" fill="none"/>
<rect x="1141.05" y="2052.35" width="299.6" height="246.9" fill="none" stroke="#000" stroke-width="0.95"/>
<text transform="translate(1291.35 2045.88) rotate(0.05)" font-size="18.03" text-anchor="middle">Classifier : LSPV</text>
<text transform="translate(1133.26 2304.19) rotate(0.05)" font-size="13.52" text-anchor="end">0.0</text>
<text transform="translate(1133.26 2268.56) rotate(0.05)" font-size="13.52" text-anchor="end">0.1</text>
<text transform="translate(1133.26 2232.93) rotate(0.05)" font-size="13.52" text-anchor="end">0.2</text>
<text transform="translate(1133.26 2197.3) rotate(0.05)" font-size="13.52" text-anchor="end">0.3</text>
<text transform="translate(1133.26 2161.68) rotate(0.05)" font-size="13.52" text-anchor="end">0.4</text>
<text transform="translate(1133.26 2126.05) rotate(0.05)" font-size="13.52" text-anchor="end">0.5</text>
<text transform="translate(1133.26 2090.42) rotate(0.05)" font-size="13.52" text-anchor="end">0.6</text>
<text transform="translate(1173.45 2331.28) rotate(-45)" y="3.73" font-size="13.52" text-anchor="middle">Original</text>
<text transform="translate(1220.41 2331.88) rotate(-45)" y="3.73" font-size="13.52" text-anchor="middle">Top 80%</text>
<text transform="translate(1267.37 2331.88) rotate(-45)" y="3.73" font-size="13.52" text-anchor="middle">Top 60%</text>
<text transform="translate(1314.33 2331.88) rotate(-45)" y="3.73" font-size="13.52" text-anchor="middle">Top 50%</text>
<text transform="translate(1361.29 2331.88) rotate(-45)" y="3.73" font-size="13.52" text-anchor="middle">Top 40%</text>
<text transform="translate(1408.25 2331.88) rotate(-45)" y="3.73" font-size="13.52" text-anchor="middle">Top 20%</text>
<text transform="translate(1290.85 2373.13) rotate(0.05)" font-size="15.73" text-anchor="middle">Selected Features of emotions dataset</text>
<text transform="translate(1103.58 2176.2) rotate(-89.95)" font-size="15.73" text-anchor="middle">F1 score of emotions dataset</text></g>
<text class="cap" transform="translate(472.7 2434.5) rotate(0.03)"><tspan x="0" textLength="43.38" lengthAdjust="spacingAndGlyphs">(c)</tspan> <tspan x="55.2" textLength="40.93" lengthAdjust="spacingAndGlyphs">F1</tspan> <tspan x="107.96" textLength="77.18" lengthAdjust="spacingAndGlyphs">score</tspan> <tspan x="196.95" textLength="28.61" lengthAdjust="spacingAndGlyphs">of</tspan> <tspan x="237.39" textLength="138.24" lengthAdjust="spacingAndGlyphs">emotions</tspan> <tspan x="387.45" textLength="122.48" lengthAdjust="spacingAndGlyphs">dataset.</tspan></text>
</g>
</svg>
</body></html>
